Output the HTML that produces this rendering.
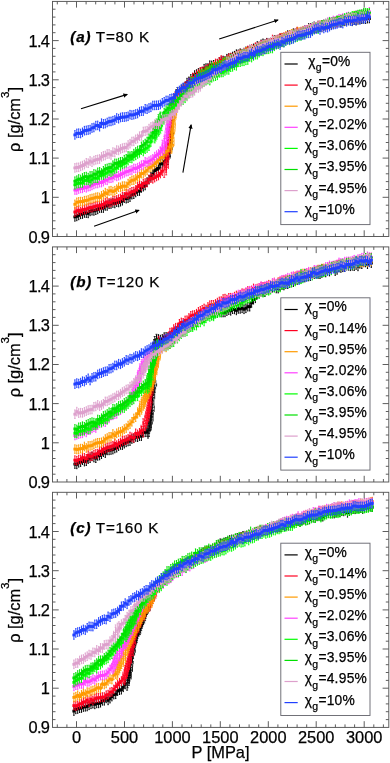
<!DOCTYPE html>
<html lang="en"><head><meta charset="utf-8"><title>Density vs pressure</title>
<style>html,body{margin:0;padding:0;background:#fff}body{width:390px;height:763px;overflow:hidden}svg{display:block}text{font-family:"Liberation Sans",Arial,sans-serif;fill:#000;stroke:#000;stroke-width:.25px}.tk{font-size:16.4px}.lg{font-size:13.8px;letter-spacing:.25px}.tt{font-size:15.2px;letter-spacing:.8px}.ax{stroke:#555;stroke-width:.95;fill:none}</style></head><body>
<svg width="390" height="763" viewBox="0 0 390 763">
<rect width="390" height="763" fill="#fff"/>
<defs>
<marker id="sk" markerUnits="userSpaceOnUse" markerWidth="12" markerHeight="14" refX="0" refY="0" viewBox="-6 -7 12 14" overflow="visible"><path d="M0-4.3V4.3M-.6-4.3h1.2M-.6 4.3h1.2" stroke="#000000" stroke-width=".95" fill="none"/><rect x="-1.5" y="-1.4" width="3" height="2.8" fill="#000000"/></marker>
<marker id="lk" markerUnits="userSpaceOnUse" markerWidth="14" markerHeight="20" refX="0" refY="0" viewBox="-7 -10 14 20" overflow="visible"><path d="M0-7.5V7.5M-1-7.5h2M-1 7.5h2M-2.2 0h4.4M-2.2-1.6v3.2M2.2-1.6v3.2" stroke="#000000" stroke-width=".8" fill="none"/></marker>
<marker id="sr" markerUnits="userSpaceOnUse" markerWidth="12" markerHeight="14" refX="0" refY="0" viewBox="-6 -7 12 14" overflow="visible"><path d="M0-4.3V4.3M-.6-4.3h1.2M-.6 4.3h1.2" stroke="#ff0020" stroke-width=".95" fill="none"/><rect x="-1.5" y="-1.4" width="3" height="2.8" fill="#ff0020"/></marker>
<marker id="lr" markerUnits="userSpaceOnUse" markerWidth="14" markerHeight="20" refX="0" refY="0" viewBox="-7 -10 14 20" overflow="visible"><path d="M0-7.5V7.5M-1-7.5h2M-1 7.5h2M-2.2 0h4.4M-2.2-1.6v3.2M2.2-1.6v3.2" stroke="#ff0020" stroke-width=".8" fill="none"/></marker>
<marker id="so" markerUnits="userSpaceOnUse" markerWidth="12" markerHeight="14" refX="0" refY="0" viewBox="-6 -7 12 14" overflow="visible"><path d="M0-4.3V4.3M-.6-4.3h1.2M-.6 4.3h1.2" stroke="#ff9a00" stroke-width=".95" fill="none"/><rect x="-1.5" y="-1.4" width="3" height="2.8" fill="#ff9a00"/></marker>
<marker id="lo" markerUnits="userSpaceOnUse" markerWidth="14" markerHeight="20" refX="0" refY="0" viewBox="-7 -10 14 20" overflow="visible"><path d="M0-7.5V7.5M-1-7.5h2M-1 7.5h2M-2.2 0h4.4M-2.2-1.6v3.2M2.2-1.6v3.2" stroke="#ff9a00" stroke-width=".8" fill="none"/></marker>
<marker id="sm" markerUnits="userSpaceOnUse" markerWidth="12" markerHeight="14" refX="0" refY="0" viewBox="-6 -7 12 14" overflow="visible"><path d="M0-4.3V4.3M-.6-4.3h1.2M-.6 4.3h1.2" stroke="#ff40ff" stroke-width=".95" fill="none"/><rect x="-1.5" y="-1.4" width="3" height="2.8" fill="#ff40ff"/></marker>
<marker id="lm" markerUnits="userSpaceOnUse" markerWidth="14" markerHeight="20" refX="0" refY="0" viewBox="-7 -10 14 20" overflow="visible"><path d="M0-7.5V7.5M-1-7.5h2M-1 7.5h2M-2.2 0h4.4M-2.2-1.6v3.2M2.2-1.6v3.2" stroke="#ff40ff" stroke-width=".8" fill="none"/></marker>
<marker id="sg1" markerUnits="userSpaceOnUse" markerWidth="12" markerHeight="14" refX="0" refY="0" viewBox="-6 -7 12 14" overflow="visible"><path d="M0-4.3V4.3M-.6-4.3h1.2M-.6 4.3h1.2" stroke="#00ff00" stroke-width=".95" fill="none"/><rect x="-1.5" y="-1.4" width="3" height="2.8" fill="#00ff00"/></marker>
<marker id="lg1" markerUnits="userSpaceOnUse" markerWidth="14" markerHeight="20" refX="0" refY="0" viewBox="-7 -10 14 20" overflow="visible"><path d="M0-7.5V7.5M-1-7.5h2M-1 7.5h2M-2.2 0h4.4M-2.2-1.6v3.2M2.2-1.6v3.2" stroke="#00ff00" stroke-width=".8" fill="none"/></marker>
<marker id="sg2" markerUnits="userSpaceOnUse" markerWidth="12" markerHeight="14" refX="0" refY="0" viewBox="-6 -7 12 14" overflow="visible"><path d="M0-4.3V4.3M-.6-4.3h1.2M-.6 4.3h1.2" stroke="#00e000" stroke-width=".95" fill="none"/><rect x="-1.5" y="-1.4" width="3" height="2.8" fill="#00e000"/></marker>
<marker id="lg2" markerUnits="userSpaceOnUse" markerWidth="14" markerHeight="20" refX="0" refY="0" viewBox="-7 -10 14 20" overflow="visible"><path d="M0-7.5V7.5M-1-7.5h2M-1 7.5h2M-2.2 0h4.4M-2.2-1.6v3.2M2.2-1.6v3.2" stroke="#00e000" stroke-width=".8" fill="none"/></marker>
<marker id="sp" markerUnits="userSpaceOnUse" markerWidth="12" markerHeight="14" refX="0" refY="0" viewBox="-6 -7 12 14" overflow="visible"><path d="M0-4.3V4.3M-.6-4.3h1.2M-.6 4.3h1.2" stroke="#dda0cc" stroke-width=".95" fill="none"/><rect x="-1.5" y="-1.4" width="3" height="2.8" fill="#dda0cc"/></marker>
<marker id="lp" markerUnits="userSpaceOnUse" markerWidth="14" markerHeight="20" refX="0" refY="0" viewBox="-7 -10 14 20" overflow="visible"><path d="M0-7.5V7.5M-1-7.5h2M-1 7.5h2M-2.2 0h4.4M-2.2-1.6v3.2M2.2-1.6v3.2" stroke="#dda0cc" stroke-width=".8" fill="none"/></marker>
<marker id="sb" markerUnits="userSpaceOnUse" markerWidth="12" markerHeight="14" refX="0" refY="0" viewBox="-6 -7 12 14" overflow="visible"><path d="M0-4.3V4.3M-.6-4.3h1.2M-.6 4.3h1.2" stroke="#2040ff" stroke-width=".95" fill="none"/><rect x="-1.5" y="-1.4" width="3" height="2.8" fill="#2040ff"/></marker>
<marker id="lb" markerUnits="userSpaceOnUse" markerWidth="14" markerHeight="20" refX="0" refY="0" viewBox="-7 -10 14 20" overflow="visible"><path d="M0-7.5V7.5M-1-7.5h2M-1 7.5h2M-2.2 0h4.4M-2.2-1.6v3.2M2.2-1.6v3.2" stroke="#2040ff" stroke-width=".8" fill="none"/></marker>
<marker id="ah" markerUnits="userSpaceOnUse" markerWidth="6" markerHeight="5" refX="4" refY="2.2" orient="auto"><path d="M0 0L4.8 2.2L0 4.4L.5 2.2Z" fill="#000"/></marker>
</defs>
<g>
<polyline points="74.9,216.9 76.8,216.4 78.7,215.4 80.6,214.3 82.5,214 84.4,212.9 86.3,213.1 88.2,213.4 90.1,211.4 92,210.7 93.9,210.9 95.8,210.2 97.7,209.4 99.6,208 101.5,208 103.4,208 105.3,205.9 107.2,205.9 109.1,204.2 111,204 112.9,203 114.8,203.5 116.7,202.1 118.6,202.5 120.5,201.7 122.4,200.7 124.3,198.1 126.2,198.7 128.1,198.1 130,197.1 131.9,194.7 133.8,194.2 135.7,192.5 137.6,191.1 139.5,191 141.4,187.9 143.3,186.7 145.2,185.5 147.1,182.1 149,179.6 150.9,176.9 152.8,174.1 154.7,170.7 156.6,169.4 158.5,168.2 160.4,163.9 162.3,163.8 164.2,161.7 166.1,159 168,157 169.9,143.3 171.8,115.4 173.7,105 175.6,99.3 177.5,95 179.4,92.9 181.3,90 183.2,88.1 185.1,86.4 187,82.6 188.9,81.3 190.8,78.9 192.7,77.7 194.6,75.1 196.5,74.1 198.4,73 200.3,72.6 202.2,71.6 204.1,68.7 206,68.1 207.9,68.1 209.8,65.2 211.7,65.4 213.6,64.8 215.5,65 217.4,63.7 219.3,62.1 221.2,61.2 223.1,60.5 225,61 226.9,58.7 228.8,58 230.7,57.7 232.6,56.5 234.5,55.7 236.4,54.2 238.3,54.3 240.2,53.2 242.1,53.7 244,52.6 245.9,51.3 247.8,51.1 249.7,49.6 251.6,50 253.5,48.4 255.4,48.2 257.3,46 259.2,46.5 261.1,44.3 263,43.3 264.9,43.9 266.8,42.7 268.7,42.8 270.6,43.7 272.5,40.6 274.4,40.1 276.3,40 278.2,39.6 280.1,38.4 282,37.7 283.9,37.7 285.8,36.9 287.7,35.1 289.6,35.2 291.5,34.7 293.4,33.2 295.3,33.6 297.2,32.2 299.1,33 301,31.8 302.9,31.2 304.8,30.1 306.7,29.9 308.6,28 310.5,28.1 312.4,28.6 314.3,26.2 316.2,28 318.1,25.5 320,26.9 321.9,25.2 323.8,25.9 325.7,25 327.6,23.3 329.5,25 331.4,24.7 333.3,23.2 335.2,22.7 337.1,22.4 339,21.5 340.9,22.7 342.8,21.2 344.7,21.3 346.6,20.5 348.5,20.4 350.4,19.6 352.3,21.3 354.2,20 356.1,20.7 358,19.8 359.9,19 361.8,19.1 363.7,18.8 365.6,19.1 367.5,18.6 369.4,18.5" fill="none" stroke="#000000" stroke-width=".8" stroke-linejoin="round"/>
<polyline points="74.9,216.9 76.8,216.4 78.7,215.4 80.6,214.3 82.5,214 84.4,212.9 86.3,213.1 88.2,213.4 90.1,211.4 92,210.7 93.9,210.9 95.8,210.2 97.7,209.4 99.6,208 101.5,208 103.4,208 105.3,205.9 107.2,205.9 109.1,204.2 111,204 112.9,203 114.8,203.5 116.7,202.1 118.6,202.5 120.5,201.7 122.4,200.7 124.3,198.1 126.2,198.7 128.1,198.1 130,197.1 131.9,194.7 133.8,194.2 135.7,192.5 137.6,191.1 139.5,191 141.4,187.9 143.3,186.7 145.2,185.5 147.1,182.1 149,179.6 150.9,176.9 152.8,174.1 154.7,170.7 156.6,169.4 158.5,168.2 160.4,163.9 162.3,163.8 164.2,161.7 166.1,159 179.4,92.9 181.3,90 183.2,88.1 185.1,86.4 187,82.6 188.9,81.3 190.8,78.9 192.7,77.7 194.6,75.1 196.5,74.1 198.4,73 200.3,72.6 202.2,71.6 204.1,68.7 206,68.1 207.9,68.1 209.8,65.2 211.7,65.4 213.6,64.8 215.5,65 217.4,63.7 219.3,62.1 221.2,61.2 223.1,60.5 225,61 226.9,58.7 228.8,58 230.7,57.7 232.6,56.5 234.5,55.7 236.4,54.2 238.3,54.3 240.2,53.2 242.1,53.7 244,52.6 245.9,51.3 247.8,51.1 249.7,49.6 251.6,50 253.5,48.4 255.4,48.2 257.3,46 259.2,46.5 261.1,44.3 263,43.3 264.9,43.9 266.8,42.7 268.7,42.8 270.6,43.7 272.5,40.6 274.4,40.1 276.3,40 278.2,39.6 280.1,38.4 282,37.7 283.9,37.7 285.8,36.9 287.7,35.1 289.6,35.2 291.5,34.7 293.4,33.2 295.3,33.6 297.2,32.2 299.1,33 301,31.8 302.9,31.2 304.8,30.1 306.7,29.9 308.6,28 310.5,28.1 312.4,28.6 314.3,26.2 316.2,28 318.1,25.5 320,26.9 321.9,25.2 323.8,25.9 325.7,25 327.6,23.3 329.5,25 331.4,24.7 333.3,23.2 335.2,22.7 337.1,22.4 339,21.5 340.9,22.7 342.8,21.2 344.7,21.3 346.6,20.5 348.5,20.4 350.4,19.6 352.3,21.3 354.2,20 356.1,20.7 358,19.8 359.9,19 361.8,19.1 363.7,18.8 365.6,19.1 367.5,18.6 369.4,18.5" fill="none" stroke="none" marker-start="url(#sk)" marker-mid="url(#sk)" marker-end="url(#sk)"/>
<polyline points="168,157 169.9,143.3 171.8,115.4 173.7,105 175.6,99.3 177.5,95 167.7,154.3 168.4,151.5 170,148.8 169.2,146 169.6,140.2 170.5,137.1 171.2,134 170,130.9 170.9,127.8 170.9,124.7 170.5,121.6 172,118.5 172.3,112.8 172.8,110.2 172.8,107.6 174.9,102.2 176.3,97.2" fill="none" stroke="none" marker-start="url(#lk)" marker-mid="url(#lk)" marker-end="url(#lk)"/>
<polyline points="74.9,212 76.8,210.8 78.7,210.2 80.6,211.6 82.5,209.7 84.4,209.7 86.3,209 88.2,208.1 90.1,207.5 92,207.8 93.9,206.6 95.8,206.1 97.7,205.7 99.6,206 101.5,205.1 103.4,204.3 105.3,203 107.2,201.8 109.1,202.9 111,202.3 112.9,200.8 114.8,200.6 116.7,200 118.6,199.2 120.5,198.4 122.4,196.4 124.3,196.8 126.2,193.7 128.1,194.1 130,192.7 131.9,191.8 133.8,191.4 135.7,190 137.6,186.9 139.5,185.3 141.4,186 143.3,183.5 145.2,183.1 147.1,182.6 149,179.6 150.9,178.2 152.8,178.8 154.7,177.6 156.6,176.4 158.5,175.5 160.4,173.5 162.3,171.3 164.2,169.9 166.1,164.8 168,149.4 169.9,121.9 171.8,107.9 173.7,101.9 175.6,97.7 177.5,95.8 179.4,93.6 181.3,91.4 183.2,89.7 185.1,86.4 187,84.8 188.9,82.6 190.8,81.8 192.7,77.5 194.6,77.6 196.5,75.4 198.4,74.2 200.3,71.8 202.2,71.4 204.1,71.3 206,69.6 207.9,68.7 209.8,67.5 211.7,67.7 213.6,65.9 215.5,63.4 217.4,63.7 219.3,61.9 221.2,60 223.1,61.2 225,61.8 226.9,60 228.8,58.2 230.7,57.6 232.6,58.3 234.5,56.8 236.4,55.9 238.3,55 240.2,54.3 242.1,54.1 244,53.1 245.9,52.1 247.8,50.4 249.7,50.8 251.6,49.1 253.5,49.7 255.4,47.2 257.3,47.3 259.2,46.6 261.1,44.9 263,46.5 264.9,45.5 266.8,43.3 268.7,43.5 270.6,42.5 272.5,39.5 274.4,41 276.3,40 278.2,39.4 280.1,37.9 282,37.8 283.9,37.2 285.8,37.5 287.7,36.2 289.6,35.3 291.5,35.9 293.4,33.7 295.3,33.2 297.2,31.5 299.1,33.5 301,32.4 302.9,31.8 304.8,31 306.7,30.1 308.6,29.6 310.5,28.7 312.4,28.2 314.3,27.8 316.2,28.4 318.1,27.1 320,26.1 321.9,25.2 323.8,24.7 325.7,25.8 327.6,24.5 329.5,23.7 331.4,22.8 333.3,21.8 335.2,22.1 337.1,22.3 339,20.9 340.9,20.5 342.8,20.1 344.7,19.9 346.6,18.1 348.5,18.7 350.4,17.8 352.3,18.7 354.2,17 356.1,17.6 358,17.9 359.9,16.2 361.8,15.6 363.7,15.8 365.6,15.2 367.5,14.1 369.4,14.8" fill="none" stroke="#ff0020" stroke-width=".8" stroke-linejoin="round"/>
<polyline points="74.9,212 76.8,210.8 78.7,210.2 80.6,211.6 82.5,209.7 84.4,209.7 86.3,209 88.2,208.1 90.1,207.5 92,207.8 93.9,206.6 95.8,206.1 97.7,205.7 99.6,206 101.5,205.1 103.4,204.3 105.3,203 107.2,201.8 109.1,202.9 111,202.3 112.9,200.8 114.8,200.6 116.7,200 118.6,199.2 120.5,198.4 122.4,196.4 124.3,196.8 126.2,193.7 128.1,194.1 130,192.7 131.9,191.8 133.8,191.4 135.7,190 137.6,186.9 139.5,185.3 141.4,186 143.3,183.5 145.2,183.1 147.1,182.6 149,179.6 150.9,178.2 152.8,178.8 154.7,177.6 156.6,176.4 158.5,175.5 160.4,173.5 162.3,171.3 175.6,97.7 177.5,95.8 179.4,93.6 181.3,91.4 183.2,89.7 185.1,86.4 187,84.8 188.9,82.6 190.8,81.8 192.7,77.5 194.6,77.6 196.5,75.4 198.4,74.2 200.3,71.8 202.2,71.4 204.1,71.3 206,69.6 207.9,68.7 209.8,67.5 211.7,67.7 213.6,65.9 215.5,63.4 217.4,63.7 219.3,61.9 221.2,60 223.1,61.2 225,61.8 226.9,60 228.8,58.2 230.7,57.6 232.6,58.3 234.5,56.8 236.4,55.9 238.3,55 240.2,54.3 242.1,54.1 244,53.1 245.9,52.1 247.8,50.4 249.7,50.8 251.6,49.1 253.5,49.7 255.4,47.2 257.3,47.3 259.2,46.6 261.1,44.9 263,46.5 264.9,45.5 266.8,43.3 268.7,43.5 270.6,42.5 272.5,39.5 274.4,41 276.3,40 278.2,39.4 280.1,37.9 282,37.8 283.9,37.2 285.8,37.5 287.7,36.2 289.6,35.3 291.5,35.9 293.4,33.7 295.3,33.2 297.2,31.5 299.1,33.5 301,32.4 302.9,31.8 304.8,31 306.7,30.1 308.6,29.6 310.5,28.7 312.4,28.2 314.3,27.8 316.2,28.4 318.1,27.1 320,26.1 321.9,25.2 323.8,24.7 325.7,25.8 327.6,24.5 329.5,23.7 331.4,22.8 333.3,21.8 335.2,22.1 337.1,22.3 339,20.9 340.9,20.5 342.8,20.1 344.7,19.9 346.6,18.1 348.5,18.7 350.4,17.8 352.3,18.7 354.2,17 356.1,17.6 358,17.9 359.9,16.2 361.8,15.6 363.7,15.8 365.6,15.2 367.5,14.1 369.4,14.8" fill="none" stroke="none" marker-start="url(#sr)" marker-mid="url(#sr)" marker-end="url(#sr)"/>
<polyline points="164.2,169.9 166.1,164.8 168,149.4 169.9,121.9 171.8,107.9 173.7,101.9 166.2,167.4 166.4,161.7 166.8,158.6 166.7,155.6 167.8,152.5 167.6,146.3 167.9,143.3 169.3,140.2 168.4,137.2 169.6,134.1 170,131.1 169.6,128 170,125 171.3,119.1 170.6,116.3 170.7,113.5 170.7,110.7 172.8,104.9 175.4,99.8" fill="none" stroke="none" marker-start="url(#lr)" marker-mid="url(#lr)" marker-end="url(#lr)"/>
<polyline points="74.9,204.3 76.8,202.3 78.7,201.9 80.6,201.6 82.5,201.7 84.4,200.7 86.3,200.5 88.2,200 90.1,199 92,198.5 93.9,198.1 95.8,197.3 97.7,197.1 99.6,197.5 101.5,195.8 103.4,194.7 105.3,192.7 107.2,193.6 109.1,191.1 111,190.7 112.9,191.6 114.8,190.7 116.7,189.2 118.6,187.2 120.5,187.4 122.4,186.2 124.3,186.1 126.2,186.3 128.1,183.6 130,181.7 131.9,180.3 133.8,180.1 135.7,178.9 137.6,176.9 139.5,176.3 141.4,173.6 143.3,173.5 145.2,171.8 147.1,170.3 149,167.9 150.9,167.3 152.8,165.5 154.7,163.8 156.6,162.2 158.5,159.8 160.4,157.8 162.3,157.4 164.2,154.2 166.1,152 168,150.6 169.9,147.1 171.8,144.5 173.7,118.5 175.6,104.6 177.5,98.7 179.4,96.9 181.3,94.1 183.2,90.7 185.1,88.5 187,87.5 188.9,85.1 190.8,81.4 192.7,82.1 194.6,79.9 196.5,79 198.4,76.4 200.3,75.2 202.2,73.4 204.1,75 206,71.9 207.9,72.2 209.8,69.6 211.7,69.3 213.6,67 215.5,67 217.4,67.1 219.3,64.5 221.2,65.4 223.1,63.9 225,62 226.9,61.5 228.8,60.6 230.7,60 232.6,58.7 234.5,57.6 236.4,57.1 238.3,55.7 240.2,54.7 242.1,54.7 244,54.6 245.9,51.9 247.8,52.3 249.7,51 251.6,49.9 253.5,50.5 255.4,48.7 257.3,49.4 259.2,46.9 261.1,47 263,45.8 264.9,44.6 266.8,44.9 268.7,43.6 270.6,43.4 272.5,42.1 274.4,40.6 276.3,40.7 278.2,40.1 280.1,40 282,37.9 283.9,37.9 285.8,35.9 287.7,37.1 289.6,35.1 291.5,33.9 293.4,34.6 295.3,34.8 297.2,32.2 299.1,32 301,31.6 302.9,30.7 304.8,31.3 306.7,29.8 308.6,29.3 310.5,29.7 312.4,28.2 314.3,28.5 316.2,26.9 318.1,26.1 320,25.1 321.9,27.4 323.8,25.2 325.7,25.1 327.6,24.4 329.5,24 331.4,23.4 333.3,24.3 335.2,21.6 337.1,20.7 339,20.6 340.9,19.9 342.8,21 344.7,20.6 346.6,18.8 348.5,18 350.4,18.3 352.3,19.2 354.2,15.6 356.1,17.7 358,16.1 359.9,17.2 361.8,15.3 363.7,15.5 365.6,14.1 367.5,14.2 369.4,15.5" fill="none" stroke="#ff9a00" stroke-width=".8" stroke-linejoin="round"/>
<polyline points="74.9,204.3 76.8,202.3 78.7,201.9 80.6,201.6 82.5,201.7 84.4,200.7 86.3,200.5 88.2,200 90.1,199 92,198.5 93.9,198.1 95.8,197.3 97.7,197.1 99.6,197.5 101.5,195.8 103.4,194.7 105.3,192.7 107.2,193.6 109.1,191.1 111,190.7 112.9,191.6 114.8,190.7 116.7,189.2 118.6,187.2 120.5,187.4 122.4,186.2 124.3,186.1 126.2,186.3 128.1,183.6 130,181.7 131.9,180.3 133.8,180.1 135.7,178.9 137.6,176.9 139.5,176.3 141.4,173.6 143.3,173.5 145.2,171.8 147.1,170.3 149,167.9 150.9,167.3 152.8,165.5 154.7,163.8 156.6,162.2 158.5,159.8 160.4,157.8 162.3,157.4 164.2,154.2 166.1,152 168,150.6 169.9,147.1 179.4,96.9 181.3,94.1 183.2,90.7 185.1,88.5 187,87.5 188.9,85.1 190.8,81.4 192.7,82.1 194.6,79.9 196.5,79 198.4,76.4 200.3,75.2 202.2,73.4 204.1,75 206,71.9 207.9,72.2 209.8,69.6 211.7,69.3 213.6,67 215.5,67 217.4,67.1 219.3,64.5 221.2,65.4 223.1,63.9 225,62 226.9,61.5 228.8,60.6 230.7,60 232.6,58.7 234.5,57.6 236.4,57.1 238.3,55.7 240.2,54.7 242.1,54.7 244,54.6 245.9,51.9 247.8,52.3 249.7,51 251.6,49.9 253.5,50.5 255.4,48.7 257.3,49.4 259.2,46.9 261.1,47 263,45.8 264.9,44.6 266.8,44.9 268.7,43.6 270.6,43.4 272.5,42.1 274.4,40.6 276.3,40.7 278.2,40.1 280.1,40 282,37.9 283.9,37.9 285.8,35.9 287.7,37.1 289.6,35.1 291.5,33.9 293.4,34.6 295.3,34.8 297.2,32.2 299.1,32 301,31.6 302.9,30.7 304.8,31.3 306.7,29.8 308.6,29.3 310.5,29.7 312.4,28.2 314.3,28.5 316.2,26.9 318.1,26.1 320,25.1 321.9,27.4 323.8,25.2 325.7,25.1 327.6,24.4 329.5,24 331.4,23.4 333.3,24.3 335.2,21.6 337.1,20.7 339,20.6 340.9,19.9 342.8,21 344.7,20.6 346.6,18.8 348.5,18 350.4,18.3 352.3,19.2 354.2,15.6 356.1,17.7 358,16.1 359.9,17.2 361.8,15.3 363.7,15.5 365.6,14.1 367.5,14.2 369.4,15.5" fill="none" stroke="none" marker-start="url(#so)" marker-mid="url(#so)" marker-end="url(#so)"/>
<polyline points="171.8,144.5 173.7,118.5 175.6,104.6 177.5,98.7 171.3,145.8 171.8,141.6 171.8,138.7 171.5,135.8 172.4,132.9 172.8,130 173,127.1 173.2,124.3 172.9,121.4 174,115.7 174.4,112.9 175.5,110.1 176.2,107.4 176.5,101.6" fill="none" stroke="none" marker-start="url(#lo)" marker-mid="url(#lo)" marker-end="url(#lo)"/>
<polyline points="74.9,190 76.8,190 78.7,189 80.6,188.4 82.5,188.4 84.4,187.1 86.3,187.8 88.2,186.7 90.1,186.4 92,185.4 93.9,184.4 95.8,183.6 97.7,183.5 99.6,182.6 101.5,182.5 103.4,181.6 105.3,179.9 107.2,180.3 109.1,178.4 111,178.2 112.9,177.7 114.8,175.6 116.7,176.4 118.6,175.7 120.5,174.7 122.4,173.7 124.3,172.9 126.2,171.7 128.1,171.4 130,170.4 131.9,170 133.8,168.3 135.7,168.6 137.6,167.7 139.5,166.6 141.4,165.2 143.3,164.7 145.2,161.9 147.1,162.4 149,161.2 150.9,160.1 152.8,158.9 154.7,156.6 156.6,155.2 158.5,153.9 160.4,151.6 162.3,149.4 164.2,145.9 166.1,141.7 168,125.9 169.9,113.1 171.8,106.4 173.7,101.6 175.6,101.8 177.5,99.7 179.4,96.2 181.3,96.7 183.2,93.4 185.1,91.8 187,90.6 188.9,90.3 190.8,87.5 192.7,86.5 194.6,86.3 196.5,85 198.4,82.5 200.3,81.3 202.2,79.4 204.1,78.8 206,78.6 207.9,77.6 209.8,76.4 211.7,76.1 213.6,73.9 215.5,73.5 217.4,73.1 219.3,72 221.2,71.4 223.1,70 225,68.5 226.9,68 228.8,66 230.7,64.5 232.6,65.2 234.5,63.7 236.4,63 238.3,60.5 240.2,60.5 242.1,59.4 244,58.2 245.9,56.2 247.8,56.7 249.7,56.7 251.6,55.3 253.5,53.7 255.4,53.2 257.3,52.9 259.2,49.3 261.1,50.4 263,50 264.9,49.2 266.8,49.1 268.7,47.8 270.6,46.3 272.5,45.5 274.4,45 276.3,43.1 278.2,42.7 280.1,42.5 282,42.5 283.9,40.1 285.8,39.3 287.7,38.7 289.6,38.8 291.5,36.9 293.4,37.3 295.3,34.7 297.2,34.5 299.1,33.7 301,33.7 302.9,33.1 304.8,30.4 306.7,30.1 308.6,30.3 310.5,28.8 312.4,27.4 314.3,28.6 316.2,27.4 318.1,26.7 320,25.3 321.9,25.7 323.8,24.1 325.7,24.4 327.6,22.2 329.5,21.6 331.4,21.8 333.3,20.5 335.2,21 337.1,20.1 339,18.7 340.9,18.9 342.8,18 344.7,18.5 346.6,16.8 348.5,16.5 350.4,17.3 352.3,17.6 354.2,17 356.1,15.1 358,14.8 359.9,15.4 361.8,13.8 363.7,12.8 365.6,13.3 367.5,13.1 369.4,11.8" fill="none" stroke="#ff40ff" stroke-width=".8" stroke-linejoin="round"/>
<polyline points="74.9,190 76.8,190 78.7,189 80.6,188.4 82.5,188.4 84.4,187.1 86.3,187.8 88.2,186.7 90.1,186.4 92,185.4 93.9,184.4 95.8,183.6 97.7,183.5 99.6,182.6 101.5,182.5 103.4,181.6 105.3,179.9 107.2,180.3 109.1,178.4 111,178.2 112.9,177.7 114.8,175.6 116.7,176.4 118.6,175.7 120.5,174.7 122.4,173.7 124.3,172.9 126.2,171.7 128.1,171.4 130,170.4 131.9,170 133.8,168.3 135.7,168.6 137.6,167.7 139.5,166.6 141.4,165.2 143.3,164.7 145.2,161.9 147.1,162.4 149,161.2 150.9,160.1 152.8,158.9 154.7,156.6 156.6,155.2 158.5,153.9 160.4,151.6 162.3,149.4 173.7,101.6 175.6,101.8 177.5,99.7 179.4,96.2 181.3,96.7 183.2,93.4 185.1,91.8 187,90.6 188.9,90.3 190.8,87.5 192.7,86.5 194.6,86.3 196.5,85 198.4,82.5 200.3,81.3 202.2,79.4 204.1,78.8 206,78.6 207.9,77.6 209.8,76.4 211.7,76.1 213.6,73.9 215.5,73.5 217.4,73.1 219.3,72 221.2,71.4 223.1,70 225,68.5 226.9,68 228.8,66 230.7,64.5 232.6,65.2 234.5,63.7 236.4,63 238.3,60.5 240.2,60.5 242.1,59.4 244,58.2 245.9,56.2 247.8,56.7 249.7,56.7 251.6,55.3 253.5,53.7 255.4,53.2 257.3,52.9 259.2,49.3 261.1,50.4 263,50 264.9,49.2 266.8,49.1 268.7,47.8 270.6,46.3 272.5,45.5 274.4,45 276.3,43.1 278.2,42.7 280.1,42.5 282,42.5 283.9,40.1 285.8,39.3 287.7,38.7 289.6,38.8 291.5,36.9 293.4,37.3 295.3,34.7 297.2,34.5 299.1,33.7 301,33.7 302.9,33.1 304.8,30.4 306.7,30.1 308.6,30.3 310.5,28.8 312.4,27.4 314.3,28.6 316.2,27.4 318.1,26.7 320,25.3 321.9,25.7 323.8,24.1 325.7,24.4 327.6,22.2 329.5,21.6 331.4,21.8 333.3,20.5 335.2,21 337.1,20.1 339,18.7 340.9,18.9 342.8,18 344.7,18.5 346.6,16.8 348.5,16.5 350.4,17.3 352.3,17.6 354.2,17 356.1,15.1 358,14.8 359.9,15.4 361.8,13.8 363.7,12.8 365.6,13.3 367.5,13.1 369.4,11.8" fill="none" stroke="none" marker-start="url(#sm)" marker-mid="url(#sm)" marker-end="url(#sm)"/>
<polyline points="164.2,145.9 166.1,141.7 168,125.9 169.9,113.1 171.8,106.4 162.4,147.7 164.4,143.8 166.8,138.5 166.5,135.4 167.2,132.2 167.7,129.1 168.7,123.3 168.6,120.8 169.4,118.2 169.1,115.7 170.4,110.9 170.7,108.6 173.3,104" fill="none" stroke="none" marker-start="url(#lm)" marker-mid="url(#lm)" marker-end="url(#lm)"/>
<polyline points="74.9,184.8 76.8,183.7 78.7,183.4 80.6,182.9 82.5,183 84.4,180.6 86.3,180.4 88.2,180.2 90.1,181.7 92,179.8 93.9,178.3 95.8,178.1 97.7,178.3 99.6,175.8 101.5,174.9 103.4,175.2 105.3,173.7 107.2,172.9 109.1,171.1 111,172 112.9,170.9 114.8,169 116.7,168.1 118.6,165 120.5,166 122.4,164.3 124.3,163.6 126.2,162.6 128.1,160.6 130,158.2 131.9,158.5 133.8,156.4 135.7,155.4 137.6,153.9 139.5,152.8 141.4,150.1 143.3,151.5 145.2,149.2 147.1,148 149,146.2 150.9,142 152.8,137.7 154.7,135.4 156.6,131.7 158.5,128.6 160.4,125.6 162.3,120.8 164.2,119.4 166.1,115.1 168,113.9 169.9,111.2 171.8,109 173.7,107.4 175.6,105.6 177.5,104 179.4,101.4 181.3,100.7 183.2,100.1 185.1,98.3 187,95.9 188.9,93.5 190.8,90.8 192.7,90.8 194.6,88.3 196.5,86.9 198.4,85.4 200.3,84.5 202.2,82.9 204.1,82 206,80.2 207.9,79.6 209.8,80.6 211.7,77.8 213.6,76.6 215.5,76.2 217.4,75.3 219.3,72.9 221.2,72.6 223.1,72.4 225,70.9 226.9,69.8 228.8,69.9 230.7,67.2 232.6,66.8 234.5,65.3 236.4,65.8 238.3,62.3 240.2,62.2 242.1,61.4 244,61.3 245.9,60.3 247.8,60 249.7,56.8 251.6,57.6 253.5,55.9 255.4,54.7 257.3,54.7 259.2,52.7 261.1,51 263,51.4 264.9,49.6 266.8,49.4 268.7,49.3 270.6,48.4 272.5,48.5 274.4,46.3 276.3,44.5 278.2,44.2 280.1,43.3 282,42.2 283.9,42.6 285.8,41 287.7,39.2 289.6,40.4 291.5,38.9 293.4,38.5 295.3,37.5 297.2,37.1 299.1,35.8 301,35.9 302.9,34.5 304.8,33.7 306.7,32.9 308.6,30.7 310.5,30.9 312.4,30.1 314.3,29.6 316.2,27.7 318.1,29.1 320,27.2 321.9,25.5 323.8,24.4 325.7,24.7 327.6,24.2 329.5,23 331.4,22.9 333.3,21.7 335.2,22 337.1,20.4 339,20.4 340.9,20.5 342.8,21.2 344.7,18 346.6,17.9 348.5,17.1 350.4,17.8 352.3,15.9 354.2,15.9 356.1,15.8 358,14.6 359.9,14.2 361.8,14.2 363.7,12.6 365.6,12.7 367.5,13 369.4,13.1" fill="none" stroke="#00ff00" stroke-width=".8" stroke-linejoin="round"/>
<polyline points="74.9,184.8 76.8,183.7 78.7,183.4 80.6,182.9 82.5,183 84.4,180.6 86.3,180.4 88.2,180.2 90.1,181.7 92,179.8 93.9,178.3 95.8,178.1 97.7,178.3 99.6,175.8 101.5,174.9 103.4,175.2 105.3,173.7 107.2,172.9 109.1,171.1 111,172 112.9,170.9 114.8,169 116.7,168.1 118.6,165 120.5,166 122.4,164.3 124.3,163.6 126.2,162.6 128.1,160.6 130,158.2 131.9,158.5 133.8,156.4 135.7,155.4 137.6,153.9 139.5,152.8 141.4,150.1 143.3,151.5 145.2,149.2 147.1,148 149,146.2 150.9,142 152.8,137.7 162.3,120.8 164.2,119.4 166.1,115.1 168,113.9 169.9,111.2 171.8,109 173.7,107.4 175.6,105.6 177.5,104 179.4,101.4 181.3,100.7 183.2,100.1 185.1,98.3 187,95.9 188.9,93.5 190.8,90.8 192.7,90.8 194.6,88.3 196.5,86.9 198.4,85.4 200.3,84.5 202.2,82.9 204.1,82 206,80.2 207.9,79.6 209.8,80.6 211.7,77.8 213.6,76.6 215.5,76.2 217.4,75.3 219.3,72.9 221.2,72.6 223.1,72.4 225,70.9 226.9,69.8 228.8,69.9 230.7,67.2 232.6,66.8 234.5,65.3 236.4,65.8 238.3,62.3 240.2,62.2 242.1,61.4 244,61.3 245.9,60.3 247.8,60 249.7,56.8 251.6,57.6 253.5,55.9 255.4,54.7 257.3,54.7 259.2,52.7 261.1,51 263,51.4 264.9,49.6 266.8,49.4 268.7,49.3 270.6,48.4 272.5,48.5 274.4,46.3 276.3,44.5 278.2,44.2 280.1,43.3 282,42.2 283.9,42.6 285.8,41 287.7,39.2 289.6,40.4 291.5,38.9 293.4,38.5 295.3,37.5 297.2,37.1 299.1,35.8 301,35.9 302.9,34.5 304.8,33.7 306.7,32.9 308.6,30.7 310.5,30.9 312.4,30.1 314.3,29.6 316.2,27.7 318.1,29.1 320,27.2 321.9,25.5 323.8,24.4 325.7,24.7 327.6,24.2 329.5,23 331.4,22.9 333.3,21.7 335.2,22 337.1,20.4 339,20.4 340.9,20.5 342.8,21.2 344.7,18 346.6,17.9 348.5,17.1 350.4,17.8 352.3,15.9 354.2,15.9 356.1,15.8 358,14.6 359.9,14.2 361.8,14.2 363.7,12.6 365.6,12.7 367.5,13 369.4,13.1" fill="none" stroke="none" marker-start="url(#sg1)" marker-mid="url(#sg1)" marker-end="url(#sg1)"/>
<polyline points="154.7,135.4 156.6,131.7 158.5,128.6 160.4,125.6 155.6,133.5 156.7,130.2 159.2,127.1 161.7,123.2" fill="none" stroke="none" marker-start="url(#lg1)" marker-mid="url(#lg1)" marker-end="url(#lg1)"/>
<polyline points="74.9,181.2 76.8,180.2 78.7,179 80.6,179.5 82.5,178 84.4,176.9 86.3,176.6 88.2,177.6 90.1,176 92,175.9 93.9,174 95.8,174.3 97.7,172.3 99.6,171.9 101.5,173 103.4,170.8 105.3,169 107.2,168.4 109.1,167.7 111,167.5 112.9,165.2 114.8,163.3 116.7,163.4 118.6,162.6 120.5,161.8 122.4,161.7 124.3,159.7 126.2,158.8 128.1,156 130,156.2 131.9,155.8 133.8,153.6 135.7,152 137.6,150.5 139.5,150.1 141.4,146.4 143.3,145.1 145.2,143.5 147.1,141.5 149,138.2 150.9,136.1 152.8,132.9 154.7,130.1 156.6,126.5 158.5,122.1 160.4,119.5 162.3,117 164.2,112.5 166.1,110.1 168,108.2 169.9,104.5 171.8,103.3 173.7,100.7 175.6,100.8 177.5,100.2 179.4,98.4 181.3,95.2 183.2,94.3 185.1,91.9 187,89.1 188.9,86.8 190.8,81.8 192.7,81.6 194.6,79.1 196.5,78.6 198.4,76.3 200.3,74.4 202.2,73.9 204.1,73.1 206,71.5 207.9,70.8 209.8,69 211.7,66.9 213.6,68.2 215.5,67.2 217.4,65.9 219.3,65 221.2,64.8 223.1,62.8 225,61.8 226.9,61.3 228.8,61.5 230.7,58.7 232.6,59.8 234.5,57.6 236.4,56.5 238.3,57.5 240.2,55.7 242.1,54 244,53.9 245.9,54.1 247.8,53.6 249.7,51.6 251.6,51.5 253.5,51 255.4,49.2 257.3,49.2 259.2,48.2 261.1,47.1 263,46.4 264.9,46.1 266.8,45.4 268.7,44.2 270.6,43.6 272.5,44.1 274.4,42.7 276.3,42.5 278.2,42.1 280.1,40.9 282,41.5 283.9,38.5 285.8,39.1 287.7,37.5 289.6,38.5 291.5,37.7 293.4,34.3 295.3,34.4 297.2,34.9 299.1,34.3 301,33.6 302.9,32.3 304.8,32.1 306.7,31.5 308.6,30.3 310.5,30.4 312.4,27.3 314.3,28.8 316.2,26.9 318.1,27.7 320,26.1 321.9,25 323.8,25.3 325.7,23.7 327.6,23.1 329.5,22 331.4,22.5 333.3,22.3 335.2,22.2 337.1,20.8 339,21.1 340.9,19.8 342.8,19.2 344.7,19.3 346.6,19.1 348.5,17.6 350.4,17.3 352.3,16.9 354.2,16.6 356.1,15.5 358,16.5 359.9,15 361.8,15.3 363.7,14 365.6,14.5 367.5,14.1 369.4,13.2" fill="none" stroke="#00e000" stroke-width=".8" stroke-linejoin="round"/>
<polyline points="74.9,181.2 76.8,180.2 78.7,179 80.6,179.5 82.5,178 84.4,176.9 86.3,176.6 88.2,177.6 90.1,176 92,175.9 93.9,174 95.8,174.3 97.7,172.3 99.6,171.9 101.5,173 103.4,170.8 105.3,169 107.2,168.4 109.1,167.7 111,167.5 112.9,165.2 114.8,163.3 116.7,163.4 118.6,162.6 120.5,161.8 122.4,161.7 124.3,159.7 126.2,158.8 128.1,156 130,156.2 131.9,155.8 133.8,153.6 135.7,152 137.6,150.5 139.5,150.1 141.4,146.4 143.3,145.1 145.2,143.5 147.1,141.5 149,138.2 150.9,136.1 152.8,132.9 162.3,117 164.2,112.5 166.1,110.1 168,108.2 169.9,104.5 171.8,103.3 173.7,100.7 175.6,100.8 177.5,100.2 179.4,98.4 181.3,95.2 183.2,94.3 185.1,91.9 187,89.1 188.9,86.8 190.8,81.8 192.7,81.6 194.6,79.1 196.5,78.6 198.4,76.3 200.3,74.4 202.2,73.9 204.1,73.1 206,71.5 207.9,70.8 209.8,69 211.7,66.9 213.6,68.2 215.5,67.2 217.4,65.9 219.3,65 221.2,64.8 223.1,62.8 225,61.8 226.9,61.3 228.8,61.5 230.7,58.7 232.6,59.8 234.5,57.6 236.4,56.5 238.3,57.5 240.2,55.7 242.1,54 244,53.9 245.9,54.1 247.8,53.6 249.7,51.6 251.6,51.5 253.5,51 255.4,49.2 257.3,49.2 259.2,48.2 261.1,47.1 263,46.4 264.9,46.1 266.8,45.4 268.7,44.2 270.6,43.6 272.5,44.1 274.4,42.7 276.3,42.5 278.2,42.1 280.1,40.9 282,41.5 283.9,38.5 285.8,39.1 287.7,37.5 289.6,38.5 291.5,37.7 293.4,34.3 295.3,34.4 297.2,34.9 299.1,34.3 301,33.6 302.9,32.3 304.8,32.1 306.7,31.5 308.6,30.3 310.5,30.4 312.4,27.3 314.3,28.8 316.2,26.9 318.1,27.7 320,26.1 321.9,25 323.8,25.3 325.7,23.7 327.6,23.1 329.5,22 331.4,22.5 333.3,22.3 335.2,22.2 337.1,20.8 339,21.1 340.9,19.8 342.8,19.2 344.7,19.3 346.6,19.1 348.5,17.6 350.4,17.3 352.3,16.9 354.2,16.6 356.1,15.5 358,16.5 359.9,15 361.8,15.3 363.7,14 365.6,14.5 367.5,14.1 369.4,13.2" fill="none" stroke="none" marker-start="url(#sg2)" marker-mid="url(#sg2)" marker-end="url(#sg2)"/>
<polyline points="154.7,130.1 156.6,126.5 158.5,122.1 160.4,119.5 154.8,131.5 155.8,128.3 158.4,124.3 159.9,120.8" fill="none" stroke="none" marker-start="url(#lg2)" marker-mid="url(#lg2)" marker-end="url(#lg2)"/>
<polyline points="74.9,167.9 76.8,167.4 78.7,167.3 80.6,166.3 82.5,165.6 84.4,164.6 86.3,162.8 88.2,163.2 90.1,161 92,162.2 93.9,160.6 95.8,159.8 97.7,159.4 99.6,159 101.5,156.9 103.4,155.9 105.3,155.5 107.2,154 109.1,153.9 111,155 112.9,152.1 114.8,152.5 116.7,150.1 118.6,150.4 120.5,149 122.4,148.2 124.3,147.7 126.2,147.4 128.1,145 130,143.7 131.9,141.5 133.8,141.3 135.7,139.3 137.6,138.5 139.5,136.2 141.4,135.9 143.3,131.5 145.2,131.2 147.1,130.7 149,128.6 150.9,127 152.8,126.2 154.7,124.2 156.6,124.2 158.5,124.7 160.4,122.7 162.3,120 164.2,119.3 166.1,118.7 168,118.6 169.9,116 171.8,114.6 173.7,114 175.6,111.6 177.5,108.1 179.4,104.9 181.3,101.8 183.2,99.6 185.1,96.1 187,96.5 188.9,93.8 190.8,93.1 192.7,92.7 194.6,90.8 196.5,87.8 198.4,88 200.3,86.8 202.2,83.8 204.1,82.1 206,81.2 207.9,78.5 209.8,79.1 211.7,74.6 213.6,73.9 215.5,72.9 217.4,71.3 219.3,69.8 221.2,68.1 223.1,66 225,65.3 226.9,61.3 228.8,61.4 230.7,59.6 232.6,59 234.5,58 236.4,56.1 238.3,55.3 240.2,55.4 242.1,54.1 244,52.5 245.9,53.7 247.8,53 249.7,49.4 251.6,49.9 253.5,50.8 255.4,48.7 257.3,47.5 259.2,46.4 261.1,45.4 263,44.9 264.9,44 266.8,44.2 268.7,42.7 270.6,42 272.5,40.7 274.4,40.9 276.3,39.6 278.2,39.5 280.1,39.8 282,38.6 283.9,38.1 285.8,37.3 287.7,36.5 289.6,35.7 291.5,35 293.4,35.2 295.3,33.2 297.2,34.4 299.1,32.8 301,31.5 302.9,31.1 304.8,30.4 306.7,30.4 308.6,29.1 310.5,29.9 312.4,27.8 314.3,26.1 316.2,26.6 318.1,25.1 320,25.9 321.9,26.2 323.8,25.3 325.7,23.2 327.6,23.1 329.5,24.5 331.4,22.9 333.3,22.2 335.2,22.5 337.1,23.1 339,21.8 340.9,20.5 342.8,20.2 344.7,20 346.6,18.7 348.5,18 350.4,18.5 352.3,17.4 354.2,17.7 356.1,17.5 358,18.8 359.9,16.1 361.8,16.4 363.7,16.1 365.6,16.3 367.5,16.4 369.4,15" fill="none" stroke="#dda0cc" stroke-width=".8" stroke-linejoin="round"/>
<polyline points="74.9,167.9 76.8,167.4 78.7,167.3 80.6,166.3 82.5,165.6 84.4,164.6 86.3,162.8 88.2,163.2 90.1,161 92,162.2 93.9,160.6 95.8,159.8 97.7,159.4 99.6,159 101.5,156.9 103.4,155.9 105.3,155.5 107.2,154 109.1,153.9 111,155 112.9,152.1 114.8,152.5 116.7,150.1 118.6,150.4 120.5,149 122.4,148.2 124.3,147.7 126.2,147.4 128.1,145 130,143.7 131.9,141.5 133.8,141.3 135.7,139.3 137.6,138.5 139.5,136.2 141.4,135.9 143.3,131.5 145.2,131.2 147.1,130.7 149,128.6 150.9,127 152.8,126.2 154.7,124.2 156.6,124.2 158.5,124.7 160.4,122.7 162.3,120 164.2,119.3 166.1,118.7 168,118.6 169.9,116 171.8,114.6 173.7,114 175.6,111.6 177.5,108.1 179.4,104.9 181.3,101.8 183.2,99.6 185.1,96.1 187,96.5 188.9,93.8 190.8,93.1 192.7,92.7 194.6,90.8 196.5,87.8 198.4,88 200.3,86.8 202.2,83.8 204.1,82.1 206,81.2 207.9,78.5 209.8,79.1 211.7,74.6 213.6,73.9 215.5,72.9 217.4,71.3 219.3,69.8 221.2,68.1 223.1,66 225,65.3 226.9,61.3 228.8,61.4 230.7,59.6 232.6,59 234.5,58 236.4,56.1 238.3,55.3 240.2,55.4 242.1,54.1 244,52.5 245.9,53.7 247.8,53 249.7,49.4 251.6,49.9 253.5,50.8 255.4,48.7 257.3,47.5 259.2,46.4 261.1,45.4 263,44.9 264.9,44 266.8,44.2 268.7,42.7 270.6,42 272.5,40.7 274.4,40.9 276.3,39.6 278.2,39.5 280.1,39.8 282,38.6 283.9,38.1 285.8,37.3 287.7,36.5 289.6,35.7 291.5,35 293.4,35.2 295.3,33.2 297.2,34.4 299.1,32.8 301,31.5 302.9,31.1 304.8,30.4 306.7,30.4 308.6,29.1 310.5,29.9 312.4,27.8 314.3,26.1 316.2,26.6 318.1,25.1 320,25.9 321.9,26.2 323.8,25.3 325.7,23.2 327.6,23.1 329.5,24.5 331.4,22.9 333.3,22.2 335.2,22.5 337.1,23.1 339,21.8 340.9,20.5 342.8,20.2 344.7,20 346.6,18.7 348.5,18 350.4,18.5 352.3,17.4 354.2,17.7 356.1,17.5 358,18.8 359.9,16.1 361.8,16.4 363.7,16.1 365.6,16.3 367.5,16.4 369.4,15" fill="none" stroke="none" marker-start="url(#sp)" marker-mid="url(#sp)" marker-end="url(#sp)"/>
<polyline points="74.9,134.9 76.8,133.4 78.7,133.2 80.6,133.5 82.5,132.3 84.4,130.7 86.3,130.4 88.2,130 90.1,129.6 92,128 93.9,127.5 95.8,125.6 97.7,125.4 99.6,126.7 101.5,123.2 103.4,123.9 105.3,123.6 107.2,122.5 109.1,121.5 111,121.4 112.9,120.7 114.8,120 116.7,118 118.6,118.7 120.5,117.5 122.4,117.1 124.3,117.1 126.2,116.8 128.1,116.3 130,114.7 131.9,115.1 133.8,114.7 135.7,114 137.6,113.5 139.5,111.7 141.4,111.1 143.3,111.1 145.2,108.8 147.1,109.2 149,108 150.9,107.3 152.8,105.5 154.7,105.4 156.6,105.3 158.5,105.2 160.4,104.5 162.3,102.8 164.2,101.8 166.1,100.4 168,100.4 169.9,98.8 171.8,98.3 173.7,97.8 175.6,94.7 177.5,91.7 179.4,90.5 181.3,88.6 183.2,87.3 185.1,87.8 187,85.6 188.9,82.9 190.8,83.2 192.7,82.5 194.6,80.2 196.5,79 198.4,78.3 200.3,77.7 202.2,77 204.1,76.4 206,75.5 207.9,74.5 209.8,73.7 211.7,72.3 213.6,69.7 215.5,69.9 217.4,69.3 219.3,68 221.2,68.1 223.1,66.3 225,65 226.9,66 228.8,64.6 230.7,63.4 232.6,63.1 234.5,62.4 236.4,61 238.3,58.1 240.2,58.6 242.1,57.9 244,56.7 245.9,56.7 247.8,56.7 249.7,54.6 251.6,53.3 253.5,54.9 255.4,52.2 257.3,50.8 259.2,51.2 261.1,50.5 263,48.9 264.9,49.3 266.8,47.6 268.7,46.5 270.6,46.6 272.5,46.3 274.4,44.5 276.3,44.5 278.2,43.5 280.1,45 282,41.6 283.9,42.5 285.8,40.7 287.7,39.9 289.6,39.8 291.5,39.3 293.4,38.8 295.3,37.4 297.2,36 299.1,35.4 301,35.5 302.9,34.9 304.8,34.8 306.7,33.4 308.6,33.3 310.5,33 312.4,31.3 314.3,29.4 316.2,29 318.1,28.2 320,29.9 321.9,27.5 323.8,28.5 325.7,27.4 327.6,27.7 329.5,26.6 331.4,25.3 333.3,24.7 335.2,24.4 337.1,23.9 339,22.9 340.9,22.9 342.8,23.6 344.7,20.7 346.6,21.8 348.5,20.5 350.4,21 352.3,21.1 354.2,20.1 356.1,20.4 358,18.3 359.9,20 361.8,18.4 363.7,19 365.6,18.3 367.5,15.9 369.4,17" fill="none" stroke="#2040ff" stroke-width=".8" stroke-linejoin="round"/>
<polyline points="74.9,134.9 76.8,133.4 78.7,133.2 80.6,133.5 82.5,132.3 84.4,130.7 86.3,130.4 88.2,130 90.1,129.6 92,128 93.9,127.5 95.8,125.6 97.7,125.4 99.6,126.7 101.5,123.2 103.4,123.9 105.3,123.6 107.2,122.5 109.1,121.5 111,121.4 112.9,120.7 114.8,120 116.7,118 118.6,118.7 120.5,117.5 122.4,117.1 124.3,117.1 126.2,116.8 128.1,116.3 130,114.7 131.9,115.1 133.8,114.7 135.7,114 137.6,113.5 139.5,111.7 141.4,111.1 143.3,111.1 145.2,108.8 147.1,109.2 149,108 150.9,107.3 152.8,105.5 154.7,105.4 156.6,105.3 158.5,105.2 160.4,104.5 162.3,102.8 164.2,101.8 166.1,100.4 168,100.4 169.9,98.8 171.8,98.3 173.7,97.8 175.6,94.7 177.5,91.7 179.4,90.5 181.3,88.6 183.2,87.3 185.1,87.8 187,85.6 188.9,82.9 190.8,83.2 192.7,82.5 194.6,80.2 196.5,79 198.4,78.3 200.3,77.7 202.2,77 204.1,76.4 206,75.5 207.9,74.5 209.8,73.7 211.7,72.3 213.6,69.7 215.5,69.9 217.4,69.3 219.3,68 221.2,68.1 223.1,66.3 225,65 226.9,66 228.8,64.6 230.7,63.4 232.6,63.1 234.5,62.4 236.4,61 238.3,58.1 240.2,58.6 242.1,57.9 244,56.7 245.9,56.7 247.8,56.7 249.7,54.6 251.6,53.3 253.5,54.9 255.4,52.2 257.3,50.8 259.2,51.2 261.1,50.5 263,48.9 264.9,49.3 266.8,47.6 268.7,46.5 270.6,46.6 272.5,46.3 274.4,44.5 276.3,44.5 278.2,43.5 280.1,45 282,41.6 283.9,42.5 285.8,40.7 287.7,39.9 289.6,39.8 291.5,39.3 293.4,38.8 295.3,37.4 297.2,36 299.1,35.4 301,35.5 302.9,34.9 304.8,34.8 306.7,33.4 308.6,33.3 310.5,33 312.4,31.3 314.3,29.4 316.2,29 318.1,28.2 320,29.9 321.9,27.5 323.8,28.5 325.7,27.4 327.6,27.7 329.5,26.6 331.4,25.3 333.3,24.7 335.2,24.4 337.1,23.9 339,22.9 340.9,22.9 342.8,23.6 344.7,20.7 346.6,21.8 348.5,20.5 350.4,21 352.3,21.1 354.2,20.1 356.1,20.4 358,18.3 359.9,20 361.8,18.4 363.7,19 365.6,18.3 367.5,15.9 369.4,17" fill="none" stroke="none" marker-start="url(#sb)" marker-mid="url(#sb)" marker-end="url(#sb)"/>
<rect class="ax" x="52.5" y="1.4" width="336.3" height="235.1"/>
<path class="ax" d="M57.3 236.5v-3M57.3 1.4v3M66.9 236.5v-3M66.9 1.4v3M76.5 236.5v-6.2M76.5 1.4v6.2M86.1 236.5v-3M86.1 1.4v3M95.7 236.5v-3M95.7 1.4v3M105.3 236.5v-3M105.3 1.4v3M114.9 236.5v-3M114.9 1.4v3M124.5 236.5v-6.2M124.5 1.4v6.2M134 236.5v-3M134 1.4v3M143.6 236.5v-3M143.6 1.4v3M153.2 236.5v-3M153.2 1.4v3M162.8 236.5v-3M162.8 1.4v3M172.4 236.5v-6.2M172.4 1.4v6.2M182 236.5v-3M182 1.4v3M191.6 236.5v-3M191.6 1.4v3M201.2 236.5v-3M201.2 1.4v3M210.8 236.5v-3M210.8 1.4v3M220.3 236.5v-6.2M220.3 1.4v6.2M229.9 236.5v-3M229.9 1.4v3M239.5 236.5v-3M239.5 1.4v3M249.1 236.5v-3M249.1 1.4v3M258.7 236.5v-3M258.7 1.4v3M268.3 236.5v-6.2M268.3 1.4v6.2M277.9 236.5v-3M277.9 1.4v3M287.5 236.5v-3M287.5 1.4v3M297.1 236.5v-3M297.1 1.4v3M306.7 236.5v-3M306.7 1.4v3M316.2 236.5v-6.2M316.2 1.4v6.2M325.8 236.5v-3M325.8 1.4v3M335.4 236.5v-3M335.4 1.4v3M345 236.5v-3M345 1.4v3M354.6 236.5v-3M354.6 1.4v3M364.2 236.5v-6.2M364.2 1.4v6.2M373.8 236.5v-3M373.8 1.4v3M383.4 236.5v-3M383.4 1.4v3M52.5 228.7h3M388.8 228.7h-3M52.5 220.8h3M388.8 220.8h-3M52.5 213h3M388.8 213h-3M52.5 205.2h3M388.8 205.2h-3M52.5 197.3h6.2M388.8 197.3h-6.2M52.5 189.5h3M388.8 189.5h-3M52.5 181.6h3M388.8 181.6h-3M52.5 173.8h3M388.8 173.8h-3M52.5 166h3M388.8 166h-3M52.5 158.1h6.2M388.8 158.1h-6.2M52.5 150.3h3M388.8 150.3h-3M52.5 142.5h3M388.8 142.5h-3M52.5 134.6h3M388.8 134.6h-3M52.5 126.8h3M388.8 126.8h-3M52.5 119h6.2M388.8 119h-6.2M52.5 111.1h3M388.8 111.1h-3M52.5 103.3h3M388.8 103.3h-3M52.5 95.4h3M388.8 95.4h-3M52.5 87.6h3M388.8 87.6h-3M52.5 79.8h6.2M388.8 79.8h-6.2M52.5 71.9h3M388.8 71.9h-3M52.5 64.1h3M388.8 64.1h-3M52.5 56.3h3M388.8 56.3h-3M52.5 48.4h3M388.8 48.4h-3M52.5 40.6h6.2M388.8 40.6h-6.2M52.5 32.7h3M388.8 32.7h-3M52.5 24.9h3M388.8 24.9h-3M52.5 17.1h3M388.8 17.1h-3M52.5 9.2h3M388.8 9.2h-3"/>
<text class="tk" x="49.9" y="242.5" text-anchor="end">0<tspan dx="-.7">.</tspan><tspan dx="-.7">9</tspan></text>
<text class="tk" x="49.9" y="203.3" text-anchor="end">1</text>
<text class="tk" x="49.9" y="164.1" text-anchor="end">1<tspan dx="-.7">.</tspan><tspan dx="-.7">1</tspan></text>
<text class="tk" x="49.9" y="125" text-anchor="end">1<tspan dx="-.7">.</tspan><tspan dx="-.7">2</tspan></text>
<text class="tk" x="49.9" y="85.8" text-anchor="end">1<tspan dx="-.7">.</tspan><tspan dx="-.7">3</tspan></text>
<text class="tk" x="49.9" y="46.6" text-anchor="end">1<tspan dx="-.7">.</tspan><tspan dx="-.7">4</tspan></text>
<text class="tk" transform="translate(20.4 119.5) rotate(-90)" text-anchor="middle">ρ [g/cm<tspan font-size="11.5" dy="-11.3">3</tspan><tspan dy="11.3">]</tspan></text>
<text class="tt" x="70.3" y="41.7"><tspan font-weight="bold" font-style="italic">(a)</tspan><tspan dx="4.6">T=80 K</tspan></text>
<rect x="280.8" y="52.3" width="89.2" height="172.3" fill="#fff" stroke="#6a6a72" stroke-width=".95"/>
<path d="M284.5 64h13.2" stroke="#000000" stroke-width="1.2"/>
<text class="lg" x="308.3" y="65.9">χ<tspan font-size="10.5" dy="5.5">g</tspan><tspan dy="-5.5">=0%</tspan></text>
<path d="M284.5 85.1h13.2" stroke="#ff0020" stroke-width="1.2"/>
<text class="lg" x="304.8" y="87">χ<tspan font-size="10.5" dy="5.5">g</tspan><tspan dy="-5.5">=0.14%</tspan></text>
<path d="M284.5 106.2h13.2" stroke="#ff9a00" stroke-width="1.2"/>
<text class="lg" x="304.8" y="108.1">χ<tspan font-size="10.5" dy="5.5">g</tspan><tspan dy="-5.5">=0.95%</tspan></text>
<path d="M284.5 127.3h13.2" stroke="#ff40ff" stroke-width="1.2"/>
<text class="lg" x="304.8" y="129.2">χ<tspan font-size="10.5" dy="5.5">g</tspan><tspan dy="-5.5">=2.02%</tspan></text>
<path d="M284.5 148.4h13.2" stroke="#00ff00" stroke-width="1.2"/>
<text class="lg" x="304.8" y="150.3">χ<tspan font-size="10.5" dy="5.5">g</tspan><tspan dy="-5.5">=3.06%</tspan></text>
<path d="M284.5 169.5h13.2" stroke="#00e000" stroke-width="1.2"/>
<text class="lg" x="304.8" y="171.4">χ<tspan font-size="10.5" dy="5.5">g</tspan><tspan dy="-5.5">=3.95%</tspan></text>
<path d="M284.5 190.6h13.2" stroke="#dda0cc" stroke-width="1.2"/>
<text class="lg" x="304.8" y="192.5">χ<tspan font-size="10.5" dy="5.5">g</tspan><tspan dy="-5.5">=4.95%</tspan></text>
<path d="M284.5 211.7h13.2" stroke="#2040ff" stroke-width="1.2"/>
<text class="lg" x="304.8" y="213.6">χ<tspan font-size="10.5" dy="5.5">g</tspan><tspan dy="-5.5">=10%</tspan></text>
</g>
<g>
<polyline points="74.9,464.1 76.8,464.4 78.7,462.8 80.6,462.1 82.5,460.2 84.4,461.6 86.3,461.2 88.2,459.1 90.1,458.2 92,456.4 93.9,457.6 95.8,458.2 97.7,455.9 99.6,455.5 101.5,454.2 103.4,452.2 105.3,453.1 107.2,450.4 109.1,450.4 111,450 112.9,449.6 114.8,448.5 116.7,447.7 118.6,446.1 120.5,444.9 122.4,445.1 124.3,443.7 126.2,442.4 128.1,441.5 130,441.1 131.9,439 133.8,438.3 135.7,436.9 137.6,437.2 139.5,436.1 141.4,436.1 143.3,432.6 145.2,432.3 147.1,432.2 149,428.9 150.9,419.9 152.8,391.3 154.7,344 156.6,339.7 158.5,339 160.4,339.6 162.3,339 164.2,337.1 166.1,336.9 168,337.4 169.9,336.6 171.8,334.5 173.7,334 175.6,332.4 177.5,329.3 179.4,329 181.3,328.3 183.2,326.2 185.1,323.8 187,324 188.9,323.6 190.8,323.2 192.7,319.3 194.6,321.9 196.5,318.1 198.4,318.8 200.3,318.1 202.2,317.1 204.1,315.7 206,313.9 207.9,314.5 209.8,312.9 211.7,311 213.6,314.5 215.5,312.6 217.4,313.1 219.3,310.9 221.2,312.5 223.1,312.5 225,312.4 226.9,311.1 228.8,310.1 230.7,310.8 232.6,309.2 234.5,309.4 236.4,310.4 238.3,308.9 240.2,308.9 242.1,308.3 244,309.3 245.9,308.3 247.8,306.7 249.7,306.7 251.6,302.9 253.5,299.7 255.4,298.3 257.3,294.6 259.2,293.6 261.1,291.7 263,291.9 264.9,292.2 266.8,289.7 268.7,289.8 270.6,288.4 272.5,287.7 274.4,287.1 276.3,288.5 278.2,288.6 280.1,286.6 282,285 283.9,285.5 285.8,284 287.7,284.2 289.6,283.2 291.5,282.5 293.4,282.1 295.3,280.6 297.2,280 299.1,278.4 301,278.7 302.9,277.3 304.8,277.6 306.7,276.4 308.6,276.5 310.5,276.2 312.4,274.2 314.3,274 316.2,273.3 318.1,274 320,274.2 321.9,273 323.8,271.6 325.7,272.5 327.6,269.8 329.5,271.6 331.4,269.5 333.3,267.4 335.2,271.1 337.1,269.9 339,267.5 340.9,268 342.8,267.3 344.7,267.2 346.6,265.6 348.5,265.8 350.4,266.3 352.3,265.8 354.2,266.2 356.1,265 358,266.4 359.9,263.8 361.8,264.2 363.7,262.3 365.6,262.5 367.5,264.2 369.4,262.2 371.3,263.1" fill="none" stroke="#000000" stroke-width=".8" stroke-linejoin="round"/>
<polyline points="74.9,464.1 76.8,464.4 78.7,462.8 80.6,462.1 82.5,460.2 84.4,461.6 86.3,461.2 88.2,459.1 90.1,458.2 92,456.4 93.9,457.6 95.8,458.2 97.7,455.9 99.6,455.5 101.5,454.2 103.4,452.2 105.3,453.1 107.2,450.4 109.1,450.4 111,450 112.9,449.6 114.8,448.5 116.7,447.7 118.6,446.1 120.5,444.9 122.4,445.1 124.3,443.7 126.2,442.4 128.1,441.5 130,441.1 131.9,439 133.8,438.3 135.7,436.9 137.6,437.2 139.5,436.1 141.4,436.1 143.3,432.6 145.2,432.3 147.1,432.2 156.6,339.7 158.5,339 160.4,339.6 162.3,339 164.2,337.1 166.1,336.9 168,337.4 169.9,336.6 171.8,334.5 173.7,334 175.6,332.4 177.5,329.3 179.4,329 181.3,328.3 183.2,326.2 185.1,323.8 187,324 188.9,323.6 190.8,323.2 192.7,319.3 194.6,321.9 196.5,318.1 198.4,318.8 200.3,318.1 202.2,317.1 204.1,315.7 206,313.9 207.9,314.5 209.8,312.9 211.7,311 213.6,314.5 215.5,312.6 217.4,313.1 219.3,310.9 221.2,312.5 223.1,312.5 225,312.4 226.9,311.1 228.8,310.1 230.7,310.8 232.6,309.2 234.5,309.4 236.4,310.4 238.3,308.9 240.2,308.9 242.1,308.3 244,309.3 245.9,308.3 247.8,306.7 249.7,306.7 251.6,302.9 253.5,299.7 255.4,298.3 257.3,294.6 259.2,293.6 261.1,291.7 263,291.9 264.9,292.2 266.8,289.7 268.7,289.8 270.6,288.4 272.5,287.7 274.4,287.1 276.3,288.5 278.2,288.6 280.1,286.6 282,285 283.9,285.5 285.8,284 287.7,284.2 289.6,283.2 291.5,282.5 293.4,282.1 295.3,280.6 297.2,280 299.1,278.4 301,278.7 302.9,277.3 304.8,277.6 306.7,276.4 308.6,276.5 310.5,276.2 312.4,274.2 314.3,274 316.2,273.3 318.1,274 320,274.2 321.9,273 323.8,271.6 325.7,272.5 327.6,269.8 329.5,271.6 331.4,269.5 333.3,267.4 335.2,271.1 337.1,269.9 339,267.5 340.9,268 342.8,267.3 344.7,267.2 346.6,265.6 348.5,265.8 350.4,266.3 352.3,265.8 354.2,266.2 356.1,265 358,266.4 359.9,263.8 361.8,264.2 363.7,262.3 365.6,262.5 367.5,264.2 369.4,262.2 371.3,263.1" fill="none" stroke="none" marker-start="url(#sk)" marker-mid="url(#sk)" marker-end="url(#sk)"/>
<polyline points="149,428.9 150.9,419.9 152.8,391.3 154.7,344 148,430.6 149.1,425.9 150.1,422.9 150.9,416.7 151.1,413.5 151.9,410.4 152.1,407.2 151.7,404 151.7,400.8 152.5,397.6 152.5,394.5 153.4,388.1 154.4,385 153.6,381.8 153.3,378.7 153.3,375.5 153.1,372.4 153.2,369.2 153.3,366 153.7,362.9 153.9,359.7 154.6,356.6 154.1,353.4 154.3,350.3 154,347.1 156.5,341.8" fill="none" stroke="none" marker-start="url(#lk)" marker-mid="url(#lk)" marker-end="url(#lk)"/>
<polyline points="74.9,460.1 76.8,460.7 78.7,459.5 80.6,459.5 82.5,457.7 84.4,457.9 86.3,458.8 88.2,455.3 90.1,456.5 92,456.2 93.9,454.5 95.8,454 97.7,453.6 99.6,451.3 101.5,451.2 103.4,449.4 105.3,448.6 107.2,447.7 109.1,447.1 111,446.4 112.9,445.7 114.8,443.4 116.7,445.2 118.6,443.7 120.5,442.5 122.4,440.9 124.3,440.4 126.2,440 128.1,439 130,436.5 131.9,437.3 133.8,438 135.7,433.3 137.6,434.4 139.5,432.8 141.4,430.8 143.3,429.3 145.2,423.4 147.1,417.6 149,408 150.9,390.9 152.8,373.8 154.7,361.5 156.6,349.4 158.5,345.9 160.4,341.9 162.3,341.9 164.2,339.2 166.1,339.3 168,336.8 169.9,332.6 171.8,332.2 173.7,329.1 175.6,327.7 177.5,327.5 179.4,323.8 181.3,322.4 183.2,322.8 185.1,320.4 187,320.2 188.9,318 190.8,315.8 192.7,315.2 194.6,315 196.5,313.7 198.4,311.9 200.3,310.9 202.2,309.8 204.1,308.4 206,309.4 207.9,307 209.8,305.2 211.7,304.8 213.6,304.9 215.5,304 217.4,302.6 219.3,301.4 221.2,301.1 223.1,299 225,298.6 226.9,299.5 228.8,297.8 230.7,297.7 232.6,297.7 234.5,296.6 236.4,295.5 238.3,296.4 240.2,294.7 242.1,293.2 244,293.5 245.9,292.6 247.8,291 249.7,291.2 251.6,290.4 253.5,288.4 255.4,289.3 257.3,288.6 259.2,288 261.1,286.5 263,286.9 264.9,286.6 266.8,286.2 268.7,284.7 270.6,285.5 272.5,283.6 274.4,283.8 276.3,284.4 278.2,282.3 280.1,281.9 282,282.5 283.9,280.8 285.8,280.3 287.7,280.1 289.6,280.2 291.5,277.1 293.4,277.5 295.3,276.8 297.2,276.2 299.1,275.7 301,275.2 302.9,275.4 304.8,273.9 306.7,274.1 308.6,273.7 310.5,272.3 312.4,272.4 314.3,273 316.2,271.4 318.1,270.1 320,270 321.9,268.8 323.8,269.2 325.7,269.1 327.6,267.3 329.5,267.2 331.4,267.8 333.3,266 335.2,266.1 337.1,264.7 339,264.3 340.9,264.1 342.8,265.7 344.7,263.3 346.6,262.7 348.5,262.3 350.4,262.1 352.3,262.3 354.2,261.5 356.1,262.5 358,260.7 359.9,261.2 361.8,259.9 363.7,259.8 365.6,257.8 367.5,258.4 369.4,258.1 371.3,257.6" fill="none" stroke="#ff0020" stroke-width=".8" stroke-linejoin="round"/>
<polyline points="74.9,460.1 76.8,460.7 78.7,459.5 80.6,459.5 82.5,457.7 84.4,457.9 86.3,458.8 88.2,455.3 90.1,456.5 92,456.2 93.9,454.5 95.8,454 97.7,453.6 99.6,451.3 101.5,451.2 103.4,449.4 105.3,448.6 107.2,447.7 109.1,447.1 111,446.4 112.9,445.7 114.8,443.4 116.7,445.2 118.6,443.7 120.5,442.5 122.4,440.9 124.3,440.4 126.2,440 128.1,439 130,436.5 131.9,437.3 133.8,438 135.7,433.3 137.6,434.4 139.5,432.8 141.4,430.8 160.4,341.9 162.3,341.9 164.2,339.2 166.1,339.3 168,336.8 169.9,332.6 171.8,332.2 173.7,329.1 175.6,327.7 177.5,327.5 179.4,323.8 181.3,322.4 183.2,322.8 185.1,320.4 187,320.2 188.9,318 190.8,315.8 192.7,315.2 194.6,315 196.5,313.7 198.4,311.9 200.3,310.9 202.2,309.8 204.1,308.4 206,309.4 207.9,307 209.8,305.2 211.7,304.8 213.6,304.9 215.5,304 217.4,302.6 219.3,301.4 221.2,301.1 223.1,299 225,298.6 226.9,299.5 228.8,297.8 230.7,297.7 232.6,297.7 234.5,296.6 236.4,295.5 238.3,296.4 240.2,294.7 242.1,293.2 244,293.5 245.9,292.6 247.8,291 249.7,291.2 251.6,290.4 253.5,288.4 255.4,289.3 257.3,288.6 259.2,288 261.1,286.5 263,286.9 264.9,286.6 266.8,286.2 268.7,284.7 270.6,285.5 272.5,283.6 274.4,283.8 276.3,284.4 278.2,282.3 280.1,281.9 282,282.5 283.9,280.8 285.8,280.3 287.7,280.1 289.6,280.2 291.5,277.1 293.4,277.5 295.3,276.8 297.2,276.2 299.1,275.7 301,275.2 302.9,275.4 304.8,273.9 306.7,274.1 308.6,273.7 310.5,272.3 312.4,272.4 314.3,273 316.2,271.4 318.1,270.1 320,270 321.9,268.8 323.8,269.2 325.7,269.1 327.6,267.3 329.5,267.2 331.4,267.8 333.3,266 335.2,266.1 337.1,264.7 339,264.3 340.9,264.1 342.8,265.7 344.7,263.3 346.6,262.7 348.5,262.3 350.4,262.1 352.3,262.3 354.2,261.5 356.1,262.5 358,260.7 359.9,261.2 361.8,259.9 363.7,259.8 365.6,257.8 367.5,258.4 369.4,258.1 371.3,257.6" fill="none" stroke="none" marker-start="url(#sr)" marker-mid="url(#sr)" marker-end="url(#sr)"/>
<polyline points="143.3,429.3 145.2,423.4 147.1,417.6 149,408 150.9,390.9 152.8,373.8 154.7,361.5 156.6,349.4 158.5,345.9 143.2,426.3 146.6,420.5 147.4,415.2 147.8,412.8 148.4,410.4 149.2,405.1 149.8,402.3 149.3,399.4 149.8,396.6 150.7,393.7 151.3,388 151.3,385.2 151.6,382.3 151.7,379.5 152.5,376.6 153.9,370.7 153.2,367.6 155,364.6 155.6,358.5 155.4,355.4 156.5,352.4 156.8,347.7 158.6,343.9" fill="none" stroke="none" marker-start="url(#lr)" marker-mid="url(#lr)" marker-end="url(#lr)"/>
<polyline points="74.9,449.1 76.8,449.5 78.7,449.2 80.6,448.6 82.5,448.7 84.4,446.5 86.3,448 88.2,446 90.1,445.9 92,445.5 93.9,444.2 95.8,443.3 97.7,442.8 99.6,442.7 101.5,442.3 103.4,441.3 105.3,439.1 107.2,438.1 109.1,436.9 111,436.8 112.9,434 114.8,435.6 116.7,433.3 118.6,432.1 120.5,431.8 122.4,431 124.3,429.1 126.2,428.1 128.1,425.5 130,424.1 131.9,421.8 133.8,418.4 135.7,417.2 137.6,413.7 139.5,410.8 141.4,406.7 143.3,402.7 145.2,398.8 147.1,392.4 149,389.4 150.9,385.7 152.8,380.8 154.7,371.4 156.6,361.9 158.5,353.6 160.4,349.1 162.3,348.5 164.2,345.9 166.1,347.4 168,345 169.9,344.2 171.8,339.9 173.7,339.5 175.6,336.8 177.5,335.7 179.4,332.6 181.3,331 183.2,331.5 185.1,327.5 187,325.9 188.9,324.7 190.8,322.6 192.7,322.7 194.6,321.6 196.5,318.4 198.4,316.2 200.3,317 202.2,315.6 204.1,314.1 206,313.2 207.9,310.6 209.8,310 211.7,308.1 213.6,307 215.5,307.8 217.4,305.6 219.3,306.9 221.2,304.3 223.1,302.9 225,303.1 226.9,303 228.8,301.2 230.7,299.1 232.6,299.5 234.5,299.4 236.4,297.3 238.3,296.3 240.2,296.9 242.1,295.5 244,293.8 245.9,293.7 247.8,292.7 249.7,292.8 251.6,291.9 253.5,292 255.4,291 257.3,288.7 259.2,289.5 261.1,289.2 263,288.2 264.9,288 266.8,286.2 268.7,285.3 270.6,286.1 272.5,284 274.4,282.5 276.3,284.3 278.2,282.4 280.1,282 282,280.6 283.9,280 285.8,279.5 287.7,279.5 289.6,279.4 291.5,276.7 293.4,278.4 295.3,276.3 297.2,275.7 299.1,276.4 301,275.2 302.9,273.5 304.8,275.4 306.7,272.8 308.6,273 310.5,272.4 312.4,272.7 314.3,270.8 316.2,271.4 318.1,269.5 320,270.4 321.9,268.5 323.8,268.4 325.7,269.7 327.6,268.1 329.5,267.5 331.4,268.7 333.3,267 335.2,265.7 337.1,266.6 339,264.8 340.9,266.2 342.8,266 344.7,264.3 346.6,264 348.5,264.3 350.4,263.9 352.3,262.9 354.2,263.8 356.1,261.6 358,262.6 359.9,262.4 361.8,262.3 363.7,262.5 365.6,261.2 367.5,262.4 369.4,261.7 371.3,261.2" fill="none" stroke="#ff9a00" stroke-width=".8" stroke-linejoin="round"/>
<polyline points="74.9,449.1 76.8,449.5 78.7,449.2 80.6,448.6 82.5,448.7 84.4,446.5 86.3,448 88.2,446 90.1,445.9 92,445.5 93.9,444.2 95.8,443.3 97.7,442.8 99.6,442.7 101.5,442.3 103.4,441.3 105.3,439.1 107.2,438.1 109.1,436.9 111,436.8 112.9,434 114.8,435.6 116.7,433.3 118.6,432.1 120.5,431.8 122.4,431 124.3,429.1 126.2,428.1 128.1,425.5 130,424.1 131.9,421.8 133.8,418.4 135.7,417.2 137.6,413.7 139.5,410.8 160.4,349.1 162.3,348.5 164.2,345.9 166.1,347.4 168,345 169.9,344.2 171.8,339.9 173.7,339.5 175.6,336.8 177.5,335.7 179.4,332.6 181.3,331 183.2,331.5 185.1,327.5 187,325.9 188.9,324.7 190.8,322.6 192.7,322.7 194.6,321.6 196.5,318.4 198.4,316.2 200.3,317 202.2,315.6 204.1,314.1 206,313.2 207.9,310.6 209.8,310 211.7,308.1 213.6,307 215.5,307.8 217.4,305.6 219.3,306.9 221.2,304.3 223.1,302.9 225,303.1 226.9,303 228.8,301.2 230.7,299.1 232.6,299.5 234.5,299.4 236.4,297.3 238.3,296.3 240.2,296.9 242.1,295.5 244,293.8 245.9,293.7 247.8,292.7 249.7,292.8 251.6,291.9 253.5,292 255.4,291 257.3,288.7 259.2,289.5 261.1,289.2 263,288.2 264.9,288 266.8,286.2 268.7,285.3 270.6,286.1 272.5,284 274.4,282.5 276.3,284.3 278.2,282.4 280.1,282 282,280.6 283.9,280 285.8,279.5 287.7,279.5 289.6,279.4 291.5,276.7 293.4,278.4 295.3,276.3 297.2,275.7 299.1,276.4 301,275.2 302.9,273.5 304.8,275.4 306.7,272.8 308.6,273 310.5,272.4 312.4,272.7 314.3,270.8 316.2,271.4 318.1,269.5 320,270.4 321.9,268.5 323.8,268.4 325.7,269.7 327.6,268.1 329.5,267.5 331.4,268.7 333.3,267 335.2,265.7 337.1,266.6 339,264.8 340.9,266.2 342.8,266 344.7,264.3 346.6,264 348.5,264.3 350.4,263.9 352.3,262.9 354.2,263.8 356.1,261.6 358,262.6 359.9,262.4 361.8,262.3 363.7,262.5 365.6,261.2 367.5,262.4 369.4,261.7 371.3,261.2" fill="none" stroke="none" marker-start="url(#so)" marker-mid="url(#so)" marker-end="url(#so)"/>
<polyline points="141.4,406.7 143.3,402.7 145.2,398.8 147.1,392.4 149,389.4 150.9,385.7 152.8,380.8 154.7,371.4 156.6,361.9 158.5,353.6 139.8,408.7 141.8,404.7 144.4,400.8 145.4,396.6 146.5,394.5 148.6,390.9 150.5,387.6 152.6,383.3 153.1,378.5 153.2,376.1 154.7,373.8 155.3,369 156.2,366.7 156.1,364.3 157.8,359.2 158.3,356.4 159.8,351.4" fill="none" stroke="none" marker-start="url(#lo)" marker-mid="url(#lo)" marker-end="url(#lo)"/>
<polyline points="74.9,435.5 76.8,434.8 78.7,434.1 80.6,433.5 82.5,433.3 84.4,431.5 86.3,432.4 88.2,430.2 90.1,430.1 92,428.4 93.9,427.3 95.8,428 97.7,425.2 99.6,423.3 101.5,422.6 103.4,421.7 105.3,422.2 107.2,419.3 109.1,418.4 111,415.5 112.9,415.3 114.8,414.2 116.7,413.8 118.6,410.5 120.5,410.2 122.4,408.5 124.3,405.9 126.2,404.7 128.1,402.1 130,397.8 131.9,396.9 133.8,393.2 135.7,387.7 137.6,380.4 139.5,375.9 141.4,369.1 143.3,365.1 145.2,361.7 147.1,357.2 149,355.6 150.9,353.1 152.8,352 154.7,350.9 156.6,349.9 158.5,349.6 160.4,347.5 162.3,345.8 164.2,344.3 166.1,343.2 168,340.7 169.9,339.4 171.8,338.2 173.7,336.2 175.6,335 177.5,333 179.4,333.4 181.3,331.2 183.2,328.9 185.1,326.9 187,327 188.9,324.1 190.8,322.3 192.7,321.2 194.6,319.9 196.5,319.4 198.4,317 200.3,317.3 202.2,313.9 204.1,313.9 206,311.5 207.9,312.5 209.8,309.8 211.7,308.9 213.6,308.6 215.5,307.8 217.4,305 219.3,304.6 221.2,302.8 223.1,303 225,301.9 226.9,300.8 228.8,299.7 230.7,299 232.6,297.9 234.5,298 236.4,297.9 238.3,294.5 240.2,295.1 242.1,294.1 244,294 245.9,292.2 247.8,292.1 249.7,290.7 251.6,291.3 253.5,290.2 255.4,289.3 257.3,289.1 259.2,287.9 261.1,286.3 263,287.3 264.9,286.4 266.8,285.5 268.7,285.7 270.6,285.3 272.5,282.9 274.4,282.5 276.3,283.7 278.2,283 280.1,280.7 282,279.8 283.9,279.6 285.8,279.1 287.7,277.7 289.6,278.3 291.5,276.7 293.4,276.1 295.3,277.1 297.2,275.3 299.1,275.2 301,275.1 302.9,274.7 304.8,273.2 306.7,272.9 308.6,271.7 310.5,273.1 312.4,271.7 314.3,269.8 316.2,270.1 318.1,270.1 320,269.3 321.9,269.8 323.8,269 325.7,267 327.6,266.8 329.5,265.4 331.4,266.1 333.3,265.5 335.2,267 337.1,264.5 339,262.4 340.9,263 342.8,263.1 344.7,261.6 346.6,261.5 348.5,261.4 350.4,261.5 352.3,260.7 354.2,259.7 356.1,260.6 358,259.1 359.9,258.8 361.8,257.7 363.7,257.7 365.6,258.4 367.5,256.3 369.4,257.1 371.3,257.3" fill="none" stroke="#ff40ff" stroke-width=".8" stroke-linejoin="round"/>
<polyline points="74.9,435.5 76.8,434.8 78.7,434.1 80.6,433.5 82.5,433.3 84.4,431.5 86.3,432.4 88.2,430.2 90.1,430.1 92,428.4 93.9,427.3 95.8,428 97.7,425.2 99.6,423.3 101.5,422.6 103.4,421.7 105.3,422.2 107.2,419.3 109.1,418.4 111,415.5 112.9,415.3 114.8,414.2 116.7,413.8 118.6,410.5 120.5,410.2 122.4,408.5 124.3,405.9 126.2,404.7 128.1,402.1 130,397.8 147.1,357.2 149,355.6 150.9,353.1 152.8,352 154.7,350.9 156.6,349.9 158.5,349.6 160.4,347.5 162.3,345.8 164.2,344.3 166.1,343.2 168,340.7 169.9,339.4 171.8,338.2 173.7,336.2 175.6,335 177.5,333 179.4,333.4 181.3,331.2 183.2,328.9 185.1,326.9 187,327 188.9,324.1 190.8,322.3 192.7,321.2 194.6,319.9 196.5,319.4 198.4,317 200.3,317.3 202.2,313.9 204.1,313.9 206,311.5 207.9,312.5 209.8,309.8 211.7,308.9 213.6,308.6 215.5,307.8 217.4,305 219.3,304.6 221.2,302.8 223.1,303 225,301.9 226.9,300.8 228.8,299.7 230.7,299 232.6,297.9 234.5,298 236.4,297.9 238.3,294.5 240.2,295.1 242.1,294.1 244,294 245.9,292.2 247.8,292.1 249.7,290.7 251.6,291.3 253.5,290.2 255.4,289.3 257.3,289.1 259.2,287.9 261.1,286.3 263,287.3 264.9,286.4 266.8,285.5 268.7,285.7 270.6,285.3 272.5,282.9 274.4,282.5 276.3,283.7 278.2,283 280.1,280.7 282,279.8 283.9,279.6 285.8,279.1 287.7,277.7 289.6,278.3 291.5,276.7 293.4,276.1 295.3,277.1 297.2,275.3 299.1,275.2 301,275.1 302.9,274.7 304.8,273.2 306.7,272.9 308.6,271.7 310.5,273.1 312.4,271.7 314.3,269.8 316.2,270.1 318.1,270.1 320,269.3 321.9,269.8 323.8,269 325.7,267 327.6,266.8 329.5,265.4 331.4,266.1 333.3,265.5 335.2,267 337.1,264.5 339,262.4 340.9,263 342.8,263.1 344.7,261.6 346.6,261.5 348.5,261.4 350.4,261.5 352.3,260.7 354.2,259.7 356.1,260.6 358,259.1 359.9,258.8 361.8,257.7 363.7,257.7 365.6,258.4 367.5,256.3 369.4,257.1 371.3,257.3" fill="none" stroke="none" marker-start="url(#sm)" marker-mid="url(#sm)" marker-end="url(#sm)"/>
<polyline points="131.9,396.9 133.8,393.2 135.7,387.7 137.6,380.4 139.5,375.9 141.4,369.1 143.3,365.1 145.2,361.7 132.7,395.1 134.9,390.4 135.8,385.2 137.6,382.8 139.1,378.1 140.3,373.6 139.9,371.4 141.8,367.1 144.7,363.4 147,359.4" fill="none" stroke="none" marker-start="url(#lm)" marker-mid="url(#lm)" marker-end="url(#lm)"/>
<polyline points="74.9,433.1 76.8,433.3 78.7,431.4 80.6,431.2 82.5,430.8 84.4,430.5 86.3,428.3 88.2,429.4 90.1,429 92,426.3 93.9,425.2 95.8,425.5 97.7,423.7 99.6,421.4 101.5,422.6 103.4,420.9 105.3,419.2 107.2,419.8 109.1,416.8 111,414.8 112.9,414.2 114.8,412.1 116.7,411.1 118.6,410.7 120.5,408.8 122.4,407.7 124.3,408.1 126.2,406 128.1,404.3 130,402.3 131.9,400.4 133.8,399.4 135.7,396.6 137.6,396.3 139.5,392.5 141.4,391.3 143.3,389 145.2,388.3 147.1,387 149,384.4 150.9,374.5 152.8,364.4 154.7,355 156.6,349.8 158.5,346.6 160.4,346.1 162.3,344.8 164.2,346.3 166.1,346.3 168,345.6 169.9,344.1 171.8,341.9 173.7,342.2 175.6,338.1 177.5,338.7 179.4,336.4 181.3,334.2 183.2,332.1 185.1,332.2 187,331.3 188.9,328 190.8,327.2 192.7,327.1 194.6,325.4 196.5,325.6 198.4,322.6 200.3,322.4 202.2,320 204.1,321.5 206,318.4 207.9,316.3 209.8,316.9 211.7,315.9 213.6,316.4 215.5,313.8 217.4,313.1 219.3,312.6 221.2,312.4 223.1,310.2 225,310.1 226.9,308.8 228.8,307.3 230.7,306.7 232.6,305.7 234.5,304.1 236.4,304.8 238.3,302 240.2,303 242.1,302 244,300.3 245.9,298.9 247.8,298.5 249.7,298.2 251.6,297.5 253.5,296.4 255.4,296.1 257.3,294.1 259.2,293.9 261.1,291.8 263,292.7 264.9,291.5 266.8,290.4 268.7,290.8 270.6,289.7 272.5,286.4 274.4,287.8 276.3,286 278.2,287.2 280.1,287.5 282,284.6 283.9,284.4 285.8,283.4 287.7,283.2 289.6,282.8 291.5,282.6 293.4,280.3 295.3,281.5 297.2,279 299.1,279.3 301,279.3 302.9,278.4 304.8,276.5 306.7,276.1 308.6,275.6 310.5,275.3 312.4,275.6 314.3,273.2 316.2,273.9 318.1,273.5 320,272.8 321.9,272.2 323.8,272.4 325.7,271.1 327.6,270.8 329.5,270 331.4,270.4 333.3,267.1 335.2,269 337.1,267.3 339,266.8 340.9,265.8 342.8,264.7 344.7,265.3 346.6,264.6 348.5,265 350.4,263.1 352.3,264.9 354.2,263.6 356.1,262.7 358,262 359.9,261.5 361.8,260.8 363.7,260.9 365.6,260.9 367.5,260.4 369.4,259.1 371.3,259.5" fill="none" stroke="#00ff00" stroke-width=".8" stroke-linejoin="round"/>
<polyline points="74.9,433.1 76.8,433.3 78.7,431.4 80.6,431.2 82.5,430.8 84.4,430.5 86.3,428.3 88.2,429.4 90.1,429 92,426.3 93.9,425.2 95.8,425.5 97.7,423.7 99.6,421.4 101.5,422.6 103.4,420.9 105.3,419.2 107.2,419.8 109.1,416.8 111,414.8 112.9,414.2 114.8,412.1 116.7,411.1 118.6,410.7 120.5,408.8 122.4,407.7 124.3,408.1 126.2,406 128.1,404.3 130,402.3 131.9,400.4 133.8,399.4 135.7,396.6 137.6,396.3 139.5,392.5 141.4,391.3 143.3,389 145.2,388.3 147.1,387 158.5,346.6 160.4,346.1 162.3,344.8 164.2,346.3 166.1,346.3 168,345.6 169.9,344.1 171.8,341.9 173.7,342.2 175.6,338.1 177.5,338.7 179.4,336.4 181.3,334.2 183.2,332.1 185.1,332.2 187,331.3 188.9,328 190.8,327.2 192.7,327.1 194.6,325.4 196.5,325.6 198.4,322.6 200.3,322.4 202.2,320 204.1,321.5 206,318.4 207.9,316.3 209.8,316.9 211.7,315.9 213.6,316.4 215.5,313.8 217.4,313.1 219.3,312.6 221.2,312.4 223.1,310.2 225,310.1 226.9,308.8 228.8,307.3 230.7,306.7 232.6,305.7 234.5,304.1 236.4,304.8 238.3,302 240.2,303 242.1,302 244,300.3 245.9,298.9 247.8,298.5 249.7,298.2 251.6,297.5 253.5,296.4 255.4,296.1 257.3,294.1 259.2,293.9 261.1,291.8 263,292.7 264.9,291.5 266.8,290.4 268.7,290.8 270.6,289.7 272.5,286.4 274.4,287.8 276.3,286 278.2,287.2 280.1,287.5 282,284.6 283.9,284.4 285.8,283.4 287.7,283.2 289.6,282.8 291.5,282.6 293.4,280.3 295.3,281.5 297.2,279 299.1,279.3 301,279.3 302.9,278.4 304.8,276.5 306.7,276.1 308.6,275.6 310.5,275.3 312.4,275.6 314.3,273.2 316.2,273.9 318.1,273.5 320,272.8 321.9,272.2 323.8,272.4 325.7,271.1 327.6,270.8 329.5,270 331.4,270.4 333.3,267.1 335.2,269 337.1,267.3 339,266.8 340.9,265.8 342.8,264.7 344.7,265.3 346.6,264.6 348.5,265 350.4,263.1 352.3,264.9 354.2,263.6 356.1,262.7 358,262 359.9,261.5 361.8,260.8 363.7,260.9 365.6,260.9 367.5,260.4 369.4,259.1 371.3,259.5" fill="none" stroke="none" marker-start="url(#sg1)" marker-mid="url(#sg1)" marker-end="url(#sg1)"/>
<polyline points="149,384.4 150.9,374.5 152.8,364.4 154.7,355 156.6,349.8 147.6,385.7 149.6,381.9 150.9,379.4 150.7,377 151.2,372 151,369.5 151.6,366.9 152.4,362.1 154.1,359.7 153.8,357.4 155.7,352.4 157.2,348.2" fill="none" stroke="none" marker-start="url(#lg1)" marker-mid="url(#lg1)" marker-end="url(#lg1)"/>
<polyline points="74.9,428.9 76.8,429.4 78.7,427.3 80.6,427.1 82.5,426.2 84.4,426.8 86.3,424.7 88.2,423.9 90.1,422.9 92,422.1 93.9,422.6 95.8,423.2 97.7,419.5 99.6,419.9 101.5,418.2 103.4,416 105.3,415.3 107.2,414 109.1,412.2 111,412.8 112.9,408.7 114.8,409.1 116.7,407.9 118.6,406 120.5,405.4 122.4,404.7 124.3,402.9 126.2,401.7 128.1,400.2 130,396.3 131.9,397.1 133.8,396 135.7,393.3 137.6,391.7 139.5,388.1 141.4,387.4 143.3,385.4 145.2,384 147.1,383.2 149,378.8 150.9,372.5 152.8,361.1 154.7,353.2 156.6,348.4 158.5,345 160.4,343.5 162.3,345.5 164.2,343.3 166.1,343.5 168,343.5 169.9,343.8 171.8,342.5 173.7,339.1 175.6,336.6 177.5,335.2 179.4,334.8 181.3,331.8 183.2,332 185.1,330.5 187,328.1 188.9,327.2 190.8,326 192.7,325.5 194.6,322.4 196.5,323 198.4,320.8 200.3,319.4 202.2,319.1 204.1,317.8 206,316.2 207.9,314.7 209.8,314.2 211.7,315.1 213.6,314.5 215.5,312.5 217.4,312 219.3,309.8 221.2,309.1 223.1,308.5 225,306.5 226.9,305.7 228.8,305.6 230.7,304.4 232.6,302.9 234.5,303.1 236.4,301.7 238.3,301.8 240.2,300.1 242.1,299 244,298.5 245.9,297.4 247.8,296.2 249.7,295.5 251.6,295.5 253.5,294.6 255.4,294.3 257.3,291.2 259.2,291.4 261.1,290.6 263,290.3 264.9,289.1 266.8,288.3 268.7,288.5 270.6,287.3 272.5,285.6 274.4,286.8 276.3,285.8 278.2,283.9 280.1,284.3 282,282.4 283.9,283.1 285.8,281.5 287.7,280.4 289.6,280 291.5,279.1 293.4,279.1 295.3,278.5 297.2,277.7 299.1,276.7 301,273.7 302.9,275.9 304.8,273.8 306.7,274.8 308.6,274.8 310.5,273.6 312.4,272.5 314.3,272 316.2,271.5 318.1,270.6 320,270 321.9,269.1 323.8,270.2 325.7,268.7 327.6,268.9 329.5,267.4 331.4,267.1 333.3,266.4 335.2,266.4 337.1,266.2 339,265.2 340.9,264 342.8,263.5 344.7,264.8 346.6,262.9 348.5,262.5 350.4,263.3 352.3,262.6 354.2,261.8 356.1,260.6 358,262.3 359.9,260.4 361.8,260.1 363.7,259.2 365.6,257.8 367.5,257.5 369.4,258.4 371.3,258" fill="none" stroke="#00e000" stroke-width=".8" stroke-linejoin="round"/>
<polyline points="74.9,428.9 76.8,429.4 78.7,427.3 80.6,427.1 82.5,426.2 84.4,426.8 86.3,424.7 88.2,423.9 90.1,422.9 92,422.1 93.9,422.6 95.8,423.2 97.7,419.5 99.6,419.9 101.5,418.2 103.4,416 105.3,415.3 107.2,414 109.1,412.2 111,412.8 112.9,408.7 114.8,409.1 116.7,407.9 118.6,406 120.5,405.4 122.4,404.7 124.3,402.9 126.2,401.7 128.1,400.2 130,396.3 131.9,397.1 133.8,396 135.7,393.3 137.6,391.7 139.5,388.1 141.4,387.4 143.3,385.4 145.2,384 147.1,383.2 158.5,345 160.4,343.5 162.3,345.5 164.2,343.3 166.1,343.5 168,343.5 169.9,343.8 171.8,342.5 173.7,339.1 175.6,336.6 177.5,335.2 179.4,334.8 181.3,331.8 183.2,332 185.1,330.5 187,328.1 188.9,327.2 190.8,326 192.7,325.5 194.6,322.4 196.5,323 198.4,320.8 200.3,319.4 202.2,319.1 204.1,317.8 206,316.2 207.9,314.7 209.8,314.2 211.7,315.1 213.6,314.5 215.5,312.5 217.4,312 219.3,309.8 221.2,309.1 223.1,308.5 225,306.5 226.9,305.7 228.8,305.6 230.7,304.4 232.6,302.9 234.5,303.1 236.4,301.7 238.3,301.8 240.2,300.1 242.1,299 244,298.5 245.9,297.4 247.8,296.2 249.7,295.5 251.6,295.5 253.5,294.6 255.4,294.3 257.3,291.2 259.2,291.4 261.1,290.6 263,290.3 264.9,289.1 266.8,288.3 268.7,288.5 270.6,287.3 272.5,285.6 274.4,286.8 276.3,285.8 278.2,283.9 280.1,284.3 282,282.4 283.9,283.1 285.8,281.5 287.7,280.4 289.6,280 291.5,279.1 293.4,279.1 295.3,278.5 297.2,277.7 299.1,276.7 301,273.7 302.9,275.9 304.8,273.8 306.7,274.8 308.6,274.8 310.5,273.6 312.4,272.5 314.3,272 316.2,271.5 318.1,270.6 320,270 321.9,269.1 323.8,270.2 325.7,268.7 327.6,268.9 329.5,267.4 331.4,267.1 333.3,266.4 335.2,266.4 337.1,266.2 339,265.2 340.9,264 342.8,263.5 344.7,264.8 346.6,262.9 348.5,262.5 350.4,263.3 352.3,262.6 354.2,261.8 356.1,260.6 358,262.3 359.9,260.4 361.8,260.1 363.7,259.2 365.6,257.8 367.5,257.5 369.4,258.4 371.3,258" fill="none" stroke="none" marker-start="url(#sg2)" marker-mid="url(#sg2)" marker-end="url(#sg2)"/>
<polyline points="149,378.8 150.9,372.5 152.8,361.1 154.7,353.2 156.6,348.4 147.9,381 149,376.7 149.5,374.6 151.2,369.7 151.1,366.8 152.8,364 154,358.5 155.5,355.8 156.1,350.8 157.3,346.7" fill="none" stroke="none" marker-start="url(#lg2)" marker-mid="url(#lg2)" marker-end="url(#lg2)"/>
<polyline points="74.9,414.2 76.8,411.6 78.7,413.1 80.6,412.7 82.5,412.9 84.4,411.9 86.3,411.1 88.2,410.1 90.1,409.7 92,409.5 93.9,406.8 95.8,406.4 97.7,404.9 99.6,406.2 101.5,405.1 103.4,403.8 105.3,401.4 107.2,401.4 109.1,400.2 111,399.4 112.9,398.1 114.8,397.4 116.7,395.5 118.6,395.3 120.5,393.7 122.4,392.1 124.3,391.1 126.2,389.5 128.1,389 130,386.6 131.9,385.3 133.8,382.9 135.7,380.2 137.6,379.9 139.5,376 141.4,374.5 143.3,370.6 145.2,365.1 147.1,362.3 149,359.5 150.9,356.8 152.8,354.5 154.7,354.1 156.6,351.9 158.5,351.1 160.4,349.3 162.3,348.8 164.2,346.8 166.1,346.1 168,345.2 169.9,343.5 171.8,341.7 173.7,339.8 175.6,339.2 177.5,337.7 179.4,335.5 181.3,333.3 183.2,332.5 185.1,332.1 187,328.3 188.9,327.1 190.8,325.6 192.7,322 194.6,322.7 196.5,320.7 198.4,321 200.3,318.5 202.2,316.9 204.1,316.1 206,315.3 207.9,313.7 209.8,313 211.7,310.9 213.6,310.7 215.5,310.5 217.4,310.3 219.3,308.4 221.2,307.1 223.1,306.8 225,305.8 226.9,305.3 228.8,304 230.7,302.2 232.6,301.6 234.5,300.7 236.4,300 238.3,299.1 240.2,297.6 242.1,295.8 244,296.2 245.9,294.4 247.8,295.3 249.7,294.5 251.6,292.6 253.5,293.7 255.4,293.1 257.3,291.9 259.2,292.5 261.1,292 263,289 264.9,290.1 266.8,289 268.7,288.4 270.6,288.1 272.5,286.3 274.4,285.7 276.3,284.9 278.2,284.3 280.1,284.2 282,282.5 283.9,282.2 285.8,282.7 287.7,281.6 289.6,281.3 291.5,278.9 293.4,279.1 295.3,278.6 297.2,278.4 299.1,277.2 301,277.7 302.9,276.3 304.8,275.7 306.7,275.1 308.6,274.9 310.5,273.4 312.4,274 314.3,272.9 316.2,272 318.1,271.3 320,271.1 321.9,270.9 323.8,270.3 325.7,269.3 327.6,269.1 329.5,268 331.4,268.3 333.3,266.9 335.2,264.8 337.1,266.9 339,265.5 340.9,264 342.8,264.3 344.7,263.3 346.6,265.1 348.5,263.5 350.4,261.5 352.3,262.6 354.2,261.5 356.1,262.8 358,260.1 359.9,258.8 361.8,260.2 363.7,259.5 365.6,259 367.5,257.4 369.4,258.9 371.3,259.5" fill="none" stroke="#dda0cc" stroke-width=".8" stroke-linejoin="round"/>
<polyline points="74.9,414.2 76.8,411.6 78.7,413.1 80.6,412.7 82.5,412.9 84.4,411.9 86.3,411.1 88.2,410.1 90.1,409.7 92,409.5 93.9,406.8 95.8,406.4 97.7,404.9 99.6,406.2 101.5,405.1 103.4,403.8 105.3,401.4 107.2,401.4 109.1,400.2 111,399.4 112.9,398.1 114.8,397.4 116.7,395.5 118.6,395.3 120.5,393.7 122.4,392.1 124.3,391.1 126.2,389.5 128.1,389 130,386.6 131.9,385.3 133.8,382.9 135.7,380.2 137.6,379.9 139.5,376 149,359.5 150.9,356.8 152.8,354.5 154.7,354.1 156.6,351.9 158.5,351.1 160.4,349.3 162.3,348.8 164.2,346.8 166.1,346.1 168,345.2 169.9,343.5 171.8,341.7 173.7,339.8 175.6,339.2 177.5,337.7 179.4,335.5 181.3,333.3 183.2,332.5 185.1,332.1 187,328.3 188.9,327.1 190.8,325.6 192.7,322 194.6,322.7 196.5,320.7 198.4,321 200.3,318.5 202.2,316.9 204.1,316.1 206,315.3 207.9,313.7 209.8,313 211.7,310.9 213.6,310.7 215.5,310.5 217.4,310.3 219.3,308.4 221.2,307.1 223.1,306.8 225,305.8 226.9,305.3 228.8,304 230.7,302.2 232.6,301.6 234.5,300.7 236.4,300 238.3,299.1 240.2,297.6 242.1,295.8 244,296.2 245.9,294.4 247.8,295.3 249.7,294.5 251.6,292.6 253.5,293.7 255.4,293.1 257.3,291.9 259.2,292.5 261.1,292 263,289 264.9,290.1 266.8,289 268.7,288.4 270.6,288.1 272.5,286.3 274.4,285.7 276.3,284.9 278.2,284.3 280.1,284.2 282,282.5 283.9,282.2 285.8,282.7 287.7,281.6 289.6,281.3 291.5,278.9 293.4,279.1 295.3,278.6 297.2,278.4 299.1,277.2 301,277.7 302.9,276.3 304.8,275.7 306.7,275.1 308.6,274.9 310.5,273.4 312.4,274 314.3,272.9 316.2,272 318.1,271.3 320,271.1 321.9,270.9 323.8,270.3 325.7,269.3 327.6,269.1 329.5,268 331.4,268.3 333.3,266.9 335.2,264.8 337.1,266.9 339,265.5 340.9,264 342.8,264.3 344.7,263.3 346.6,265.1 348.5,263.5 350.4,261.5 352.3,262.6 354.2,261.5 356.1,262.8 358,260.1 359.9,258.8 361.8,260.2 363.7,259.5 365.6,259 367.5,257.4 369.4,258.9 371.3,259.5" fill="none" stroke="none" marker-start="url(#sp)" marker-mid="url(#sp)" marker-end="url(#sp)"/>
<polyline points="141.4,374.5 143.3,370.6 145.2,365.1 147.1,362.3 141.4,372.5 144.8,367.8 145.9,363.7 149.2,360.9" fill="none" stroke="none" marker-start="url(#lp)" marker-mid="url(#lp)" marker-end="url(#lp)"/>
<polyline points="74.9,384.1 76.8,383.1 78.7,383.6 80.6,382.6 82.5,381.2 84.4,381.6 86.3,380 88.2,378.3 90.1,380.5 92,377.9 93.9,376.9 95.8,376.7 97.7,374.4 99.6,373.5 101.5,373.1 103.4,372.1 105.3,371.4 107.2,371.1 109.1,368.9 111,368.6 112.9,367.6 114.8,365.4 116.7,365.4 118.6,363.7 120.5,364.3 122.4,363 124.3,361.8 126.2,359.9 128.1,360.2 130,358.6 131.9,358.9 133.8,357.3 135.7,355.9 137.6,356.3 139.5,355.1 141.4,353.1 143.3,353.3 145.2,351.1 147.1,350 149,349.1 150.9,347.3 152.8,346.3 154.7,345.3 156.6,345.4 158.5,344.2 160.4,341.8 162.3,342 164.2,339.6 166.1,338.8 168,338 169.9,336.3 171.8,336.6 173.7,333.6 175.6,331.2 177.5,331.7 179.4,329 181.3,327.8 183.2,324.4 185.1,326.1 187,324.7 188.9,323.5 190.8,322.4 192.7,321.8 194.6,319.3 196.5,318.9 198.4,316.5 200.3,315.6 202.2,315.5 204.1,313.9 206,311.5 207.9,311.7 209.8,310.2 211.7,308.6 213.6,308.6 215.5,307 217.4,305.2 219.3,304.6 221.2,305.9 223.1,302.7 225,303.2 226.9,302.7 228.8,301.9 230.7,299.8 232.6,299.7 234.5,299.4 236.4,299.1 238.3,297.4 240.2,296.3 242.1,297.2 244,296.6 245.9,295.4 247.8,294 249.7,294.1 251.6,293.2 253.5,293.1 255.4,290.9 257.3,291.3 259.2,290.5 261.1,289.2 263,289.6 264.9,288.9 266.8,287.9 268.7,288 270.6,286 272.5,286.5 274.4,286.3 276.3,285.6 278.2,285.6 280.1,283.4 282,282.5 283.9,283.3 285.8,282.8 287.7,283.5 289.6,281.7 291.5,280 293.4,280.6 295.3,278.8 297.2,277.6 299.1,280.1 301,277.7 302.9,277.4 304.8,276.7 306.7,277 308.6,275.3 310.5,275.4 312.4,273.1 314.3,272.3 316.2,273.9 318.1,273.4 320,272.2 321.9,271.5 323.8,271 325.7,269.8 327.6,271 329.5,269.9 331.4,269.3 333.3,268.7 335.2,268.7 337.1,267.8 339,267.5 340.9,265.6 342.8,266.4 344.7,267.1 346.6,264.6 348.5,264.4 350.4,264.7 352.3,264.3 354.2,263.5 356.1,261.4 358,262.5 359.9,260.9 361.8,260.8 363.7,261.4 365.6,260.5 367.5,261 369.4,262.4 371.3,260.3" fill="none" stroke="#2040ff" stroke-width=".8" stroke-linejoin="round"/>
<polyline points="74.9,384.1 76.8,383.1 78.7,383.6 80.6,382.6 82.5,381.2 84.4,381.6 86.3,380 88.2,378.3 90.1,380.5 92,377.9 93.9,376.9 95.8,376.7 97.7,374.4 99.6,373.5 101.5,373.1 103.4,372.1 105.3,371.4 107.2,371.1 109.1,368.9 111,368.6 112.9,367.6 114.8,365.4 116.7,365.4 118.6,363.7 120.5,364.3 122.4,363 124.3,361.8 126.2,359.9 128.1,360.2 130,358.6 131.9,358.9 133.8,357.3 135.7,355.9 137.6,356.3 139.5,355.1 141.4,353.1 143.3,353.3 145.2,351.1 147.1,350 149,349.1 150.9,347.3 152.8,346.3 154.7,345.3 156.6,345.4 158.5,344.2 160.4,341.8 162.3,342 164.2,339.6 166.1,338.8 168,338 169.9,336.3 171.8,336.6 173.7,333.6 175.6,331.2 177.5,331.7 179.4,329 181.3,327.8 183.2,324.4 185.1,326.1 187,324.7 188.9,323.5 190.8,322.4 192.7,321.8 194.6,319.3 196.5,318.9 198.4,316.5 200.3,315.6 202.2,315.5 204.1,313.9 206,311.5 207.9,311.7 209.8,310.2 211.7,308.6 213.6,308.6 215.5,307 217.4,305.2 219.3,304.6 221.2,305.9 223.1,302.7 225,303.2 226.9,302.7 228.8,301.9 230.7,299.8 232.6,299.7 234.5,299.4 236.4,299.1 238.3,297.4 240.2,296.3 242.1,297.2 244,296.6 245.9,295.4 247.8,294 249.7,294.1 251.6,293.2 253.5,293.1 255.4,290.9 257.3,291.3 259.2,290.5 261.1,289.2 263,289.6 264.9,288.9 266.8,287.9 268.7,288 270.6,286 272.5,286.5 274.4,286.3 276.3,285.6 278.2,285.6 280.1,283.4 282,282.5 283.9,283.3 285.8,282.8 287.7,283.5 289.6,281.7 291.5,280 293.4,280.6 295.3,278.8 297.2,277.6 299.1,280.1 301,277.7 302.9,277.4 304.8,276.7 306.7,277 308.6,275.3 310.5,275.4 312.4,273.1 314.3,272.3 316.2,273.9 318.1,273.4 320,272.2 321.9,271.5 323.8,271 325.7,269.8 327.6,271 329.5,269.9 331.4,269.3 333.3,268.7 335.2,268.7 337.1,267.8 339,267.5 340.9,265.6 342.8,266.4 344.7,267.1 346.6,264.6 348.5,264.4 350.4,264.7 352.3,264.3 354.2,263.5 356.1,261.4 358,262.5 359.9,260.9 361.8,260.8 363.7,261.4 365.6,260.5 367.5,261 369.4,262.4 371.3,260.3" fill="none" stroke="none" marker-start="url(#sb)" marker-mid="url(#sb)" marker-end="url(#sb)"/>
<rect class="ax" x="52.5" y="246.9" width="336.3" height="235.1"/>
<path class="ax" d="M57.3 482v-3M57.3 246.9v3M66.9 482v-3M66.9 246.9v3M76.5 482v-6.2M76.5 246.9v6.2M86.1 482v-3M86.1 246.9v3M95.7 482v-3M95.7 246.9v3M105.3 482v-3M105.3 246.9v3M114.9 482v-3M114.9 246.9v3M124.5 482v-6.2M124.5 246.9v6.2M134 482v-3M134 246.9v3M143.6 482v-3M143.6 246.9v3M153.2 482v-3M153.2 246.9v3M162.8 482v-3M162.8 246.9v3M172.4 482v-6.2M172.4 246.9v6.2M182 482v-3M182 246.9v3M191.6 482v-3M191.6 246.9v3M201.2 482v-3M201.2 246.9v3M210.8 482v-3M210.8 246.9v3M220.3 482v-6.2M220.3 246.9v6.2M229.9 482v-3M229.9 246.9v3M239.5 482v-3M239.5 246.9v3M249.1 482v-3M249.1 246.9v3M258.7 482v-3M258.7 246.9v3M268.3 482v-6.2M268.3 246.9v6.2M277.9 482v-3M277.9 246.9v3M287.5 482v-3M287.5 246.9v3M297.1 482v-3M297.1 246.9v3M306.7 482v-3M306.7 246.9v3M316.2 482v-6.2M316.2 246.9v6.2M325.8 482v-3M325.8 246.9v3M335.4 482v-3M335.4 246.9v3M345 482v-3M345 246.9v3M354.6 482v-3M354.6 246.9v3M364.2 482v-6.2M364.2 246.9v6.2M373.8 482v-3M373.8 246.9v3M383.4 482v-3M383.4 246.9v3M52.5 474.2h3M388.8 474.2h-3M52.5 466.3h3M388.8 466.3h-3M52.5 458.5h3M388.8 458.5h-3M52.5 450.7h3M388.8 450.7h-3M52.5 442.8h6.2M388.8 442.8h-6.2M52.5 435h3M388.8 435h-3M52.5 427.1h3M388.8 427.1h-3M52.5 419.3h3M388.8 419.3h-3M52.5 411.5h3M388.8 411.5h-3M52.5 403.6h6.2M388.8 403.6h-6.2M52.5 395.8h3M388.8 395.8h-3M52.5 388h3M388.8 388h-3M52.5 380.1h3M388.8 380.1h-3M52.5 372.3h3M388.8 372.3h-3M52.5 364.5h6.2M388.8 364.5h-6.2M52.5 356.6h3M388.8 356.6h-3M52.5 348.8h3M388.8 348.8h-3M52.5 340.9h3M388.8 340.9h-3M52.5 333.1h3M388.8 333.1h-3M52.5 325.3h6.2M388.8 325.3h-6.2M52.5 317.4h3M388.8 317.4h-3M52.5 309.6h3M388.8 309.6h-3M52.5 301.8h3M388.8 301.8h-3M52.5 293.9h3M388.8 293.9h-3M52.5 286.1h6.2M388.8 286.1h-6.2M52.5 278.2h3M388.8 278.2h-3M52.5 270.4h3M388.8 270.4h-3M52.5 262.6h3M388.8 262.6h-3M52.5 254.7h3M388.8 254.7h-3"/>
<text class="tk" x="49.9" y="488" text-anchor="end">0<tspan dx="-.7">.</tspan><tspan dx="-.7">9</tspan></text>
<text class="tk" x="49.9" y="448.8" text-anchor="end">1</text>
<text class="tk" x="49.9" y="409.6" text-anchor="end">1<tspan dx="-.7">.</tspan><tspan dx="-.7">1</tspan></text>
<text class="tk" x="49.9" y="370.4" text-anchor="end">1<tspan dx="-.7">.</tspan><tspan dx="-.7">2</tspan></text>
<text class="tk" x="49.9" y="331.3" text-anchor="end">1<tspan dx="-.7">.</tspan><tspan dx="-.7">3</tspan></text>
<text class="tk" x="49.9" y="292.1" text-anchor="end">1<tspan dx="-.7">.</tspan><tspan dx="-.7">4</tspan></text>
<text class="tk" transform="translate(20.4 364.9) rotate(-90)" text-anchor="middle">ρ [g/cm<tspan font-size="11.5" dy="-11.3">3</tspan><tspan dy="11.3">]</tspan></text>
<text class="tt" x="70.3" y="287.2"><tspan font-weight="bold" font-style="italic">(b)</tspan><tspan dx="4.6">T=120 K</tspan></text>
<rect x="280.8" y="297.8" width="89.2" height="172.3" fill="#fff" stroke="#6a6a72" stroke-width=".95"/>
<path d="M284.5 309.5h13.2" stroke="#000000" stroke-width="1.2"/>
<text class="lg" x="304.8" y="311.4">χ<tspan font-size="10.5" dy="5.5">g</tspan><tspan dy="-5.5">=0%</tspan></text>
<path d="M284.5 330.6h13.2" stroke="#ff0020" stroke-width="1.2"/>
<text class="lg" x="304.8" y="332.5">χ<tspan font-size="10.5" dy="5.5">g</tspan><tspan dy="-5.5">=0.14%</tspan></text>
<path d="M284.5 351.7h13.2" stroke="#ff9a00" stroke-width="1.2"/>
<text class="lg" x="304.8" y="353.6">χ<tspan font-size="10.5" dy="5.5">g</tspan><tspan dy="-5.5">=0.95%</tspan></text>
<path d="M284.5 372.8h13.2" stroke="#ff40ff" stroke-width="1.2"/>
<text class="lg" x="304.8" y="374.7">χ<tspan font-size="10.5" dy="5.5">g</tspan><tspan dy="-5.5">=2.02%</tspan></text>
<path d="M284.5 393.9h13.2" stroke="#00ff00" stroke-width="1.2"/>
<text class="lg" x="304.8" y="395.8">χ<tspan font-size="10.5" dy="5.5">g</tspan><tspan dy="-5.5">=3.06%</tspan></text>
<path d="M284.5 415h13.2" stroke="#00e000" stroke-width="1.2"/>
<text class="lg" x="304.8" y="416.9">χ<tspan font-size="10.5" dy="5.5">g</tspan><tspan dy="-5.5">=3.95%</tspan></text>
<path d="M284.5 436.1h13.2" stroke="#dda0cc" stroke-width="1.2"/>
<text class="lg" x="304.8" y="438">χ<tspan font-size="10.5" dy="5.5">g</tspan><tspan dy="-5.5">=4.95%</tspan></text>
<path d="M284.5 457.2h13.2" stroke="#2040ff" stroke-width="1.2"/>
<text class="lg" x="304.8" y="459.1">χ<tspan font-size="10.5" dy="5.5">g</tspan><tspan dy="-5.5">=10%</tspan></text>
</g>
<g>
<polyline points="73.9,711.1 75.8,709.4 77.7,709 79.6,708.2 81.5,708 83.4,707 85.3,706.8 87.2,706.5 89.1,705.3 91,704.3 92.9,703.7 94.8,704.4 96.7,703.4 98.6,703.4 100.5,702.7 102.4,700.8 104.3,700.8 106.2,698.4 108.1,700.4 110,698.7 111.9,696.6 113.8,694.6 115.7,694.3 117.6,691 119.5,690.2 121.4,689.7 123.3,687.3 125.2,684.5 127.1,682.7 129,675.5 130.9,662.5 132.8,648.4 134.7,640.1 136.6,635 138.5,628.6 140.4,625.5 142.3,618.4 144.2,615.5 146.1,608.5 148,605.5 149.9,599.9 151.8,595.6 153.7,593.1 155.6,590.5 157.5,586.6 159.4,586.3 161.3,582.8 163.2,581.7 165.1,580.1 167,578.5 168.9,575 170.8,575.9 172.7,573.6 174.6,571.3 176.5,569.4 178.4,567.4 180.3,566.3 182.2,566.4 184.1,564.4 186,562.6 187.9,561.8 189.8,562.2 191.7,559.6 193.6,558.3 195.5,558.6 197.4,556.9 199.3,555.5 201.2,553.9 203.1,552.2 205,551.4 206.9,550.9 208.8,550.2 210.7,549.6 212.6,548.8 214.5,547.6 216.4,546.7 218.3,544.9 220.2,543.2 222.1,543.6 224,542.5 225.9,541.9 227.8,541.5 229.7,540 231.6,539.4 233.5,539.5 235.4,539 237.3,537.8 239.2,538.1 241.1,537 243,535.8 244.9,536 246.8,536.8 248.7,534.4 250.6,535.2 252.5,534.9 254.4,534.5 256.3,532.2 258.2,533.9 260.1,531.9 262,531.2 263.9,530.7 265.8,530.8 267.7,529.9 269.6,529.3 271.5,529.9 273.4,527.9 275.3,527.2 277.2,528 279.1,527.5 281,527.3 282.9,525.1 284.8,526.2 286.7,525.3 288.6,525.7 290.5,522.9 292.4,523.5 294.3,522.6 296.2,521.1 298.1,521.3 300,522.1 301.9,520.4 303.8,519.7 305.7,520.4 307.6,520 309.5,519.5 311.4,517.7 313.3,517.7 315.2,518.1 317.1,516.4 319,515.8 320.9,516.6 322.8,516.7 324.7,514.2 326.6,512.8 328.5,513.2 330.4,513.2 332.3,513.4 334.2,513.6 336.1,512.7 338,511.9 339.9,512.2 341.8,511.1 343.7,511.4 345.6,510.6 347.5,512.8 349.4,511.1 351.3,509.6 353.2,509.1 355.1,509.3 357,508.1 358.9,508.5 360.8,508.2 362.7,509.1 364.6,507.9 366.5,507.4 368.4,506.7 370.3,506.6 372.2,507.2" fill="none" stroke="#000000" stroke-width=".8" stroke-linejoin="round"/>
<polyline points="73.9,711.1 75.8,709.4 77.7,709 79.6,708.2 81.5,708 83.4,707 85.3,706.8 87.2,706.5 89.1,705.3 91,704.3 92.9,703.7 94.8,704.4 96.7,703.4 98.6,703.4 100.5,702.7 102.4,700.8 104.3,700.8 106.2,698.4 108.1,700.4 110,698.7 111.9,696.6 113.8,694.6 115.7,694.3 117.6,691 119.5,690.2 121.4,689.7 123.3,687.3 125.2,684.5 155.6,590.5 157.5,586.6 159.4,586.3 161.3,582.8 163.2,581.7 165.1,580.1 167,578.5 168.9,575 170.8,575.9 172.7,573.6 174.6,571.3 176.5,569.4 178.4,567.4 180.3,566.3 182.2,566.4 184.1,564.4 186,562.6 187.9,561.8 189.8,562.2 191.7,559.6 193.6,558.3 195.5,558.6 197.4,556.9 199.3,555.5 201.2,553.9 203.1,552.2 205,551.4 206.9,550.9 208.8,550.2 210.7,549.6 212.6,548.8 214.5,547.6 216.4,546.7 218.3,544.9 220.2,543.2 222.1,543.6 224,542.5 225.9,541.9 227.8,541.5 229.7,540 231.6,539.4 233.5,539.5 235.4,539 237.3,537.8 239.2,538.1 241.1,537 243,535.8 244.9,536 246.8,536.8 248.7,534.4 250.6,535.2 252.5,534.9 254.4,534.5 256.3,532.2 258.2,533.9 260.1,531.9 262,531.2 263.9,530.7 265.8,530.8 267.7,529.9 269.6,529.3 271.5,529.9 273.4,527.9 275.3,527.2 277.2,528 279.1,527.5 281,527.3 282.9,525.1 284.8,526.2 286.7,525.3 288.6,525.7 290.5,522.9 292.4,523.5 294.3,522.6 296.2,521.1 298.1,521.3 300,522.1 301.9,520.4 303.8,519.7 305.7,520.4 307.6,520 309.5,519.5 311.4,517.7 313.3,517.7 315.2,518.1 317.1,516.4 319,515.8 320.9,516.6 322.8,516.7 324.7,514.2 326.6,512.8 328.5,513.2 330.4,513.2 332.3,513.4 334.2,513.6 336.1,512.7 338,511.9 339.9,512.2 341.8,511.1 343.7,511.4 345.6,510.6 347.5,512.8 349.4,511.1 351.3,509.6 353.2,509.1 355.1,509.3 357,508.1 358.9,508.5 360.8,508.2 362.7,509.1 364.6,507.9 366.5,507.4 368.4,506.7 370.3,506.6 372.2,507.2" fill="none" stroke="none" marker-start="url(#sk)" marker-mid="url(#sk)" marker-end="url(#sk)"/>
<polyline points="127.1,682.7 129,675.5 130.9,662.5 132.8,648.4 134.7,640.1 136.6,635 138.5,628.6 140.4,625.5 142.3,618.4 144.2,615.5 146.1,608.5 148,605.5 149.9,599.9 151.8,595.6 153.7,593.1 127.6,680.3 128.9,677.9 129.1,672.9 130.3,670.3 130.3,667.7 130.5,665.1 130.3,659.7 131,656.9 132.4,654 133.1,651.2 133.5,645.6 134.4,642.8 135.4,637.5 137,632.8 137.5,630.7 139.9,627.1 141.2,623.2 141.5,620.8 143.1,617 145.1,613.2 145.6,610.8 146.6,607 149.8,602.7 151,597.7" fill="none" stroke="none" marker-start="url(#lk)" marker-mid="url(#lk)" marker-end="url(#lk)"/>
<polyline points="73.9,705.6 75.8,706.1 77.7,705.3 79.6,703.9 81.5,703.8 83.4,702.1 85.3,701.8 87.2,700 89.1,702.1 91,699.1 92.9,700.4 94.8,698.7 96.7,697.9 98.6,697.9 100.5,697.6 102.4,697.1 104.3,697.1 106.2,695.2 108.1,694.6 110,692.3 111.9,691.8 113.8,689.4 115.7,686.6 117.6,684.6 119.5,682.7 121.4,681.1 123.3,679.1 125.2,675.4 127.1,668.8 129,661.6 130.9,652.5 132.8,640.7 134.7,634.9 136.6,626.3 138.5,623 140.4,619.6 142.3,613.4 144.2,612.5 146.1,605.3 148,605.3 149.9,602.3 151.8,598.3 153.7,593.7 155.6,590.6 157.5,586.7 159.4,585.5 161.3,581.8 163.2,580.4 165.1,579.6 167,576.3 168.9,575.2 170.8,574.1 172.7,571.5 174.6,572 176.5,570.1 178.4,567.4 180.3,567.3 182.2,565.6 184.1,564.6 186,564.1 187.9,562.5 189.8,562.8 191.7,560.6 193.6,560.9 195.5,559.1 197.4,558.9 199.3,556.9 201.2,556 203.1,554.6 205,554.9 206.9,554.3 208.8,554.3 210.7,552.8 212.6,551.1 214.5,549.9 216.4,549.4 218.3,548.3 220.2,548.5 222.1,547.3 224,545.1 225.9,544.4 227.8,545.1 229.7,543.5 231.6,542.3 233.5,542.5 235.4,540.6 237.3,539.9 239.2,539 241.1,537.1 243,538.5 244.9,536.2 246.8,535.9 248.7,535.1 250.6,535.5 252.5,534.2 254.4,533.5 256.3,531.6 258.2,532.1 260.1,530.4 262,531 263.9,530.4 265.8,529.5 267.7,530.4 269.6,528.6 271.5,528 273.4,527 275.3,526.2 277.2,526.4 279.1,525.9 281,523.4 282.9,524.6 284.8,523.6 286.7,523.3 288.6,522.3 290.5,520.4 292.4,519.8 294.3,521.4 296.2,519.6 298.1,517.8 300,518.5 301.9,517.3 303.8,515.6 305.7,514.7 307.6,514.7 309.5,515.5 311.4,514.7 313.3,514 315.2,513.9 317.1,513.6 319,511.1 320.9,511.9 322.8,511.1 324.7,510.3 326.6,510.4 328.5,510.3 330.4,509.7 332.3,508.4 334.2,508.8 336.1,510.3 338,507.6 339.9,506.8 341.8,507.9 343.7,507.8 345.6,507.3 347.5,505.8 349.4,507.1 351.3,505.5 353.2,504.9 355.1,505 357,505.1 358.9,505.4 360.8,505.1 362.7,504.4 364.6,504.8 366.5,504 368.4,504.3 370.3,502.4 372.2,502" fill="none" stroke="#ff0020" stroke-width=".8" stroke-linejoin="round"/>
<polyline points="73.9,705.6 75.8,706.1 77.7,705.3 79.6,703.9 81.5,703.8 83.4,702.1 85.3,701.8 87.2,700 89.1,702.1 91,699.1 92.9,700.4 94.8,698.7 96.7,697.9 98.6,697.9 100.5,697.6 102.4,697.1 104.3,697.1 106.2,695.2 108.1,694.6 110,692.3 111.9,691.8 113.8,689.4 115.7,686.6 117.6,684.6 119.5,682.7 121.4,681.1 123.3,679.1 146.1,605.3 148,605.3 157.5,586.7 159.4,585.5 161.3,581.8 163.2,580.4 165.1,579.6 167,576.3 168.9,575.2 170.8,574.1 172.7,571.5 174.6,572 176.5,570.1 178.4,567.4 180.3,567.3 182.2,565.6 184.1,564.6 186,564.1 187.9,562.5 189.8,562.8 191.7,560.6 193.6,560.9 195.5,559.1 197.4,558.9 199.3,556.9 201.2,556 203.1,554.6 205,554.9 206.9,554.3 208.8,554.3 210.7,552.8 212.6,551.1 214.5,549.9 216.4,549.4 218.3,548.3 220.2,548.5 222.1,547.3 224,545.1 225.9,544.4 227.8,545.1 229.7,543.5 231.6,542.3 233.5,542.5 235.4,540.6 237.3,539.9 239.2,539 241.1,537.1 243,538.5 244.9,536.2 246.8,535.9 248.7,535.1 250.6,535.5 252.5,534.2 254.4,533.5 256.3,531.6 258.2,532.1 260.1,530.4 262,531 263.9,530.4 265.8,529.5 267.7,530.4 269.6,528.6 271.5,528 273.4,527 275.3,526.2 277.2,526.4 279.1,525.9 281,523.4 282.9,524.6 284.8,523.6 286.7,523.3 288.6,522.3 290.5,520.4 292.4,519.8 294.3,521.4 296.2,519.6 298.1,517.8 300,518.5 301.9,517.3 303.8,515.6 305.7,514.7 307.6,514.7 309.5,515.5 311.4,514.7 313.3,514 315.2,513.9 317.1,513.6 319,511.1 320.9,511.9 322.8,511.1 324.7,510.3 326.6,510.4 328.5,510.3 330.4,509.7 332.3,508.4 334.2,508.8 336.1,510.3 338,507.6 339.9,506.8 341.8,507.9 343.7,507.8 345.6,507.3 347.5,505.8 349.4,507.1 351.3,505.5 353.2,504.9 355.1,505 357,505.1 358.9,505.4 360.8,505.1 362.7,504.4 364.6,504.8 366.5,504 368.4,504.3 370.3,502.4 372.2,502" fill="none" stroke="none" marker-start="url(#sr)" marker-mid="url(#sr)" marker-end="url(#sr)"/>
<polyline points="125.2,675.4 127.1,668.8 129,661.6 130.9,652.5 132.8,640.7 134.7,634.9 136.6,626.3 138.5,623 140.4,619.6 142.3,613.4 144.2,612.5 149.9,602.3 151.8,598.3 153.7,593.7 155.6,590.6 124.6,677.3 125.1,673.2 126.3,671 127.7,666.4 128.1,664 129.4,658.6 131,655.5 130.1,649.5 132.3,646.6 133.5,643.6 133.8,637.8 135.3,632 136.3,629.1 138.5,624.7 138.9,621.3 141.1,617.5 141.6,615.5 145.1,610.1 145.5,607.7 149.3,603.8 150.6,600.3 152.8,596 154.3,592.1 156.2,588.6" fill="none" stroke="none" marker-start="url(#lr)" marker-mid="url(#lr)" marker-end="url(#lr)"/>
<polyline points="73.9,697.4 75.8,696.7 77.7,695.3 79.6,696.7 81.5,694.7 83.4,693.1 85.3,694.2 87.2,692.1 89.1,692.3 91,691.1 92.9,690.5 94.8,689.6 96.7,688.1 98.6,687.7 100.5,688.2 102.4,683.9 104.3,684.5 106.2,683.5 108.1,680.9 110,679 111.9,679.6 113.8,675.2 115.7,674.1 117.6,669.6 119.5,665.3 121.4,661 123.3,656.7 125.2,652.8 127.1,647.8 129,642.6 130.9,638 132.8,634.6 134.7,630.2 136.6,625 138.5,621.5 140.4,618.4 142.3,613.9 144.2,610.6 146.1,607 148,604.3 149.9,601.3 151.8,598.2 153.7,594 155.6,592.5 157.5,588.1 159.4,587.9 161.3,583.9 163.2,581.2 165.1,578.4 167,574.8 168.9,575.1 170.8,573.6 172.7,573.4 174.6,569.4 176.5,570.4 178.4,567.5 180.3,566.9 182.2,563.1 184.1,563.9 186,562.4 187.9,562 189.8,560.4 191.7,558.5 193.6,559 195.5,557.9 197.4,556.8 199.3,556.2 201.2,555.3 203.1,553.6 205,551.7 206.9,550.8 208.8,552 210.7,550.7 212.6,549.5 214.5,548.3 216.4,547.9 218.3,547.1 220.2,546.1 222.1,545.1 224,546.5 225.9,544.4 227.8,543 229.7,541.8 231.6,541.5 233.5,541.9 235.4,541.2 237.3,539.8 239.2,539.3 241.1,538.3 243,537 244.9,538.1 246.8,536.7 248.7,537.6 250.6,534.5 252.5,534.2 254.4,534.3 256.3,532.8 258.2,531.3 260.1,530.9 262,531 263.9,530.5 265.8,529.5 267.7,529.7 269.6,529 271.5,527.9 273.4,527 275.3,526.1 277.2,526.1 279.1,525.7 281,524.4 282.9,524.1 284.8,522.8 286.7,521.4 288.6,521 290.5,521.7 292.4,520.8 294.3,520.9 296.2,519.1 298.1,519.1 300,518.7 301.9,517.8 303.8,516 305.7,515.7 307.6,515.3 309.5,513.8 311.4,514.3 313.3,514.2 315.2,512.5 317.1,513.7 319,511.5 320.9,511.1 322.8,510.5 324.7,509.7 326.6,510.1 328.5,509.4 330.4,510.2 332.3,509 334.2,508.6 336.1,507.6 338,506.4 339.9,507 341.8,506.1 343.7,507.1 345.6,506.1 347.5,507 349.4,506 351.3,505.8 353.2,505.1 355.1,504.8 357,504.9 358.9,504.8 360.8,503.4 362.7,504.1 364.6,505.4 366.5,503.2 368.4,502.9 370.3,502.4 372.2,501.6" fill="none" stroke="#ff9a00" stroke-width=".8" stroke-linejoin="round"/>
<polyline points="73.9,697.4 75.8,696.7 77.7,695.3 79.6,696.7 81.5,694.7 83.4,693.1 85.3,694.2 87.2,692.1 89.1,692.3 91,691.1 92.9,690.5 94.8,689.6 96.7,688.1 98.6,687.7 100.5,688.2 102.4,683.9 104.3,684.5 106.2,683.5 108.1,680.9 110,679 111.9,679.6 113.8,675.2 115.7,674.1 146.1,607 155.6,592.5 157.5,588.1 159.4,587.9 161.3,583.9 163.2,581.2 165.1,578.4 167,574.8 168.9,575.1 170.8,573.6 172.7,573.4 174.6,569.4 176.5,570.4 178.4,567.5 180.3,566.9 182.2,563.1 184.1,563.9 186,562.4 187.9,562 189.8,560.4 191.7,558.5 193.6,559 195.5,557.9 197.4,556.8 199.3,556.2 201.2,555.3 203.1,553.6 205,551.7 206.9,550.8 208.8,552 210.7,550.7 212.6,549.5 214.5,548.3 216.4,547.9 218.3,547.1 220.2,546.1 222.1,545.1 224,546.5 225.9,544.4 227.8,543 229.7,541.8 231.6,541.5 233.5,541.9 235.4,541.2 237.3,539.8 239.2,539.3 241.1,538.3 243,537 244.9,538.1 246.8,536.7 248.7,537.6 250.6,534.5 252.5,534.2 254.4,534.3 256.3,532.8 258.2,531.3 260.1,530.9 262,531 263.9,530.5 265.8,529.5 267.7,529.7 269.6,529 271.5,527.9 273.4,527 275.3,526.1 277.2,526.1 279.1,525.7 281,524.4 282.9,524.1 284.8,522.8 286.7,521.4 288.6,521 290.5,521.7 292.4,520.8 294.3,520.9 296.2,519.1 298.1,519.1 300,518.7 301.9,517.8 303.8,516 305.7,515.7 307.6,515.3 309.5,513.8 311.4,514.3 313.3,514.2 315.2,512.5 317.1,513.7 319,511.5 320.9,511.1 322.8,510.5 324.7,509.7 326.6,510.1 328.5,509.4 330.4,510.2 332.3,509 334.2,508.6 336.1,507.6 338,506.4 339.9,507 341.8,506.1 343.7,507.1 345.6,506.1 347.5,507 349.4,506 351.3,505.8 353.2,505.1 355.1,504.8 357,504.9 358.9,504.8 360.8,503.4 362.7,504.1 364.6,505.4 366.5,503.2 368.4,502.9 370.3,502.4 372.2,501.6" fill="none" stroke="none" marker-start="url(#so)" marker-mid="url(#so)" marker-end="url(#so)"/>
<polyline points="117.6,669.6 119.5,665.3 121.4,661 123.3,656.7 125.2,652.8 127.1,647.8 129,642.6 130.9,638 132.8,634.6 134.7,630.2 136.6,625 138.5,621.5 140.4,618.4 142.3,613.9 144.2,610.6 148,604.3 149.9,601.3 151.8,598.2 153.7,594 117.2,671.8 118.6,667.4 120.6,663.1 123.3,658.8 125.5,654.8 125.7,650.3 128.6,645.2 130.3,640.3 132,636.3 134,632.4 135.6,627.6 138.3,623.3 139.8,619.9 141.5,616.1 143.9,612.2 145.6,608.8 147.3,605.6 149.1,602.8 151.7,599.7 153,596.1" fill="none" stroke="none" marker-start="url(#lo)" marker-mid="url(#lo)" marker-end="url(#lo)"/>
<polyline points="73.9,686.4 75.8,685.2 77.7,685 79.6,683.8 81.5,684 83.4,683.5 85.3,681.1 87.2,681.9 89.1,681.7 91,680.6 92.9,679 94.8,679.9 96.7,677.6 98.6,676.4 100.5,675.6 102.4,675.4 104.3,675.2 106.2,674.2 108.1,672.2 110,669.6 111.9,667.9 113.8,664.4 115.7,661 117.6,655.9 119.5,653.4 121.4,649.9 123.3,645.9 125.2,643.5 127.1,639.1 129,634.2 130.9,629.8 132.8,626.2 134.7,621.5 136.6,616.2 138.5,613.6 140.4,609.1 142.3,607.4 144.2,603.8 146.1,600.5 148,599.3 149.9,596.1 151.8,594 153.7,591.7 155.6,590.8 157.5,588.5 159.4,586.5 161.3,584.3 163.2,584.1 165.1,581.1 167,579.4 168.9,579.5 170.8,578.3 172.7,576.3 174.6,573.4 176.5,573.1 178.4,572.8 180.3,571.2 182.2,571.2 184.1,567.9 186,568.3 187.9,566.2 189.8,566.6 191.7,564.5 193.6,564.2 195.5,561.9 197.4,560.3 199.3,559.5 201.2,558.8 203.1,557.5 205,558.2 206.9,557.3 208.8,555.5 210.7,553.5 212.6,553.2 214.5,551.8 216.4,552.4 218.3,550.6 220.2,549.8 222.1,548.2 224,546 225.9,546 227.8,544.8 229.7,545 231.6,543.9 233.5,542.4 235.4,541.8 237.3,542.4 239.2,539.6 241.1,538.8 243,538.5 244.9,537.3 246.8,536.7 248.7,536.6 250.6,536.6 252.5,533.2 254.4,533.7 256.3,533 258.2,532.1 260.1,531.2 262,530.3 263.9,530.6 265.8,528.7 267.7,528.3 269.6,527.6 271.5,527 273.4,526.1 275.3,526.2 277.2,524.8 279.1,524.2 281,523.4 282.9,522 284.8,521.4 286.7,520.6 288.6,520.9 290.5,519.5 292.4,518.6 294.3,518.9 296.2,518.5 298.1,516.1 300,518.1 301.9,516.2 303.8,515.5 305.7,515.8 307.6,514.4 309.5,513.3 311.4,514.9 313.3,511.9 315.2,512.1 317.1,512.3 319,510.3 320.9,510.5 322.8,510.4 324.7,511.5 326.6,508.6 328.5,508.8 330.4,508.9 332.3,508.1 334.2,506.8 336.1,507.6 338,507 339.9,507 341.8,507.1 343.7,506.7 345.6,505.9 347.5,505.6 349.4,504.2 351.3,504.6 353.2,504.6 355.1,503.9 357,504 358.9,503 360.8,504.6 362.7,504.8 364.6,502.7 366.5,503.1 368.4,502.4 370.3,503.4 372.2,502.5" fill="none" stroke="#ff40ff" stroke-width=".8" stroke-linejoin="round"/>
<polyline points="73.9,686.4 75.8,685.2 77.7,685 79.6,683.8 81.5,684 83.4,683.5 85.3,681.1 87.2,681.9 89.1,681.7 91,680.6 92.9,679 94.8,679.9 96.7,677.6 98.6,676.4 100.5,675.6 102.4,675.4 104.3,675.2 106.2,674.2 108.1,672.2 110,669.6 111.9,667.9 123.3,645.9 125.2,643.5 142.3,607.4 144.2,603.8 146.1,600.5 148,599.3 149.9,596.1 151.8,594 153.7,591.7 155.6,590.8 157.5,588.5 159.4,586.5 161.3,584.3 163.2,584.1 165.1,581.1 167,579.4 168.9,579.5 170.8,578.3 172.7,576.3 174.6,573.4 176.5,573.1 178.4,572.8 180.3,571.2 182.2,571.2 184.1,567.9 186,568.3 187.9,566.2 189.8,566.6 191.7,564.5 193.6,564.2 195.5,561.9 197.4,560.3 199.3,559.5 201.2,558.8 203.1,557.5 205,558.2 206.9,557.3 208.8,555.5 210.7,553.5 212.6,553.2 214.5,551.8 216.4,552.4 218.3,550.6 220.2,549.8 222.1,548.2 224,546 225.9,546 227.8,544.8 229.7,545 231.6,543.9 233.5,542.4 235.4,541.8 237.3,542.4 239.2,539.6 241.1,538.8 243,538.5 244.9,537.3 246.8,536.7 248.7,536.6 250.6,536.6 252.5,533.2 254.4,533.7 256.3,533 258.2,532.1 260.1,531.2 262,530.3 263.9,530.6 265.8,528.7 267.7,528.3 269.6,527.6 271.5,527 273.4,526.1 275.3,526.2 277.2,524.8 279.1,524.2 281,523.4 282.9,522 284.8,521.4 286.7,520.6 288.6,520.9 290.5,519.5 292.4,518.6 294.3,518.9 296.2,518.5 298.1,516.1 300,518.1 301.9,516.2 303.8,515.5 305.7,515.8 307.6,514.4 309.5,513.3 311.4,514.9 313.3,511.9 315.2,512.1 317.1,512.3 319,510.3 320.9,510.5 322.8,510.4 324.7,511.5 326.6,508.6 328.5,508.8 330.4,508.9 332.3,508.1 334.2,506.8 336.1,507.6 338,507 339.9,507 341.8,507.1 343.7,506.7 345.6,505.9 347.5,505.6 349.4,504.2 351.3,504.6 353.2,504.6 355.1,503.9 357,504 358.9,503 360.8,504.6 362.7,504.8 364.6,502.7 366.5,503.1 368.4,502.4 370.3,503.4 372.2,502.5" fill="none" stroke="none" marker-start="url(#sm)" marker-mid="url(#sm)" marker-end="url(#sm)"/>
<polyline points="113.8,664.4 115.7,661 117.6,655.9 119.5,653.4 121.4,649.9 127.1,639.1 129,634.2 130.9,629.8 132.8,626.2 134.7,621.5 136.6,616.2 138.5,613.6 140.4,609.1 112.9,666.2 114.6,662.7 116.7,658.4 119.9,651.6 122.7,647.9 125.8,641.3 128.3,636.6 130,632 132.4,628 133.7,623.9 136.2,618.8 139,611.3" fill="none" stroke="none" marker-start="url(#lm)" marker-mid="url(#lm)" marker-end="url(#lm)"/>
<polyline points="73.9,682.4 75.8,680.7 77.7,679.8 79.6,678.6 81.5,678.1 83.4,674.7 85.3,675.3 87.2,672.7 89.1,673.5 91,669.8 92.9,669.3 94.8,667.4 96.7,668.6 98.6,665.1 100.5,664.7 102.4,662.8 104.3,660.3 106.2,659.6 108.1,658.3 110,655.5 111.9,654.2 113.8,651 115.7,649 117.6,646.3 119.5,644.3 121.4,642.9 123.3,638.9 125.2,635.8 127.1,631.9 129,628.3 130.9,626.4 132.8,621 134.7,617.6 136.6,614.9 138.5,611.5 140.4,610.3 142.3,604.3 144.2,603.8 146.1,601.7 148,598.1 149.9,596.3 151.8,595 153.7,593.9 155.6,590.1 157.5,587.7 159.4,587.8 161.3,586.4 163.2,583.2 165.1,580 167,581 168.9,578.1 170.8,577.5 172.7,575.1 174.6,573.5 176.5,572.1 178.4,572.4 180.3,571.2 182.2,567.4 184.1,567.2 186,568.2 187.9,565.6 189.8,563.9 191.7,564 193.6,563 195.5,562.1 197.4,560.9 199.3,560.1 201.2,559.1 203.1,558.8 205,557 206.9,556.5 208.8,555.8 210.7,556 212.6,554.5 214.5,553.3 216.4,552.9 218.3,552 220.2,551.7 222.1,550.5 224,550.7 225.9,549.6 227.8,547.8 229.7,546.7 231.6,546.9 233.5,545.9 235.4,544.7 237.3,542.9 239.2,541.9 241.1,542.8 243,542.4 244.9,541.7 246.8,539.4 248.7,540.5 250.6,538.6 252.5,538.6 254.4,537.9 256.3,536.3 258.2,535.8 260.1,534 262,534.2 263.9,532.8 265.8,533.9 267.7,532.9 269.6,532.9 271.5,531.9 273.4,530.5 275.3,530.6 277.2,529.4 279.1,529.5 281,528.7 282.9,527.1 284.8,527.2 286.7,526.6 288.6,525.7 290.5,526 292.4,526 294.3,523.8 296.2,523.2 298.1,521.1 300,522.1 301.9,521.3 303.8,519.4 305.7,520.7 307.6,520.3 309.5,518.7 311.4,518.5 313.3,517.5 315.2,518.2 317.1,516 319,516.4 320.9,517.6 322.8,515.7 324.7,515.6 326.6,514.7 328.5,513.5 330.4,513.9 332.3,513.8 334.2,512.4 336.1,513 338,513.3 339.9,512.8 341.8,510.5 343.7,510.6 345.6,509.8 347.5,511.5 349.4,510.8 351.3,510.6 353.2,509.1 355.1,508.6 357,509.2 358.9,509 360.8,508 362.7,508.5 364.6,508.6 366.5,508.1 368.4,506.9 370.3,505.9 372.2,507" fill="none" stroke="#00ff00" stroke-width=".8" stroke-linejoin="round"/>
<polyline points="73.9,682.4 75.8,680.7 77.7,679.8 79.6,678.6 81.5,678.1 83.4,674.7 85.3,675.3 87.2,672.7 89.1,673.5 91,669.8 92.9,669.3 94.8,667.4 96.7,668.6 98.6,665.1 100.5,664.7 102.4,662.8 104.3,660.3 106.2,659.6 108.1,658.3 110,655.5 111.9,654.2 113.8,651 115.7,649 117.6,646.3 119.5,644.3 121.4,642.9 123.3,638.9 125.2,635.8 136.6,614.9 138.5,611.5 140.4,610.3 142.3,604.3 144.2,603.8 146.1,601.7 148,598.1 149.9,596.3 151.8,595 153.7,593.9 155.6,590.1 157.5,587.7 159.4,587.8 161.3,586.4 163.2,583.2 165.1,580 167,581 168.9,578.1 170.8,577.5 172.7,575.1 174.6,573.5 176.5,572.1 178.4,572.4 180.3,571.2 182.2,567.4 184.1,567.2 186,568.2 187.9,565.6 189.8,563.9 191.7,564 193.6,563 195.5,562.1 197.4,560.9 199.3,560.1 201.2,559.1 203.1,558.8 205,557 206.9,556.5 208.8,555.8 210.7,556 212.6,554.5 214.5,553.3 216.4,552.9 218.3,552 220.2,551.7 222.1,550.5 224,550.7 225.9,549.6 227.8,547.8 229.7,546.7 231.6,546.9 233.5,545.9 235.4,544.7 237.3,542.9 239.2,541.9 241.1,542.8 243,542.4 244.9,541.7 246.8,539.4 248.7,540.5 250.6,538.6 252.5,538.6 254.4,537.9 256.3,536.3 258.2,535.8 260.1,534 262,534.2 263.9,532.8 265.8,533.9 267.7,532.9 269.6,532.9 271.5,531.9 273.4,530.5 275.3,530.6 277.2,529.4 279.1,529.5 281,528.7 282.9,527.1 284.8,527.2 286.7,526.6 288.6,525.7 290.5,526 292.4,526 294.3,523.8 296.2,523.2 298.1,521.1 300,522.1 301.9,521.3 303.8,519.4 305.7,520.7 307.6,520.3 309.5,518.7 311.4,518.5 313.3,517.5 315.2,518.2 317.1,516 319,516.4 320.9,517.6 322.8,515.7 324.7,515.6 326.6,514.7 328.5,513.5 330.4,513.9 332.3,513.8 334.2,512.4 336.1,513 338,513.3 339.9,512.8 341.8,510.5 343.7,510.6 345.6,509.8 347.5,511.5 349.4,510.8 351.3,510.6 353.2,509.1 355.1,508.6 357,509.2 358.9,509 360.8,508 362.7,508.5 364.6,508.6 366.5,508.1 368.4,506.9 370.3,505.9 372.2,507" fill="none" stroke="none" marker-start="url(#sg1)" marker-mid="url(#sg1)" marker-end="url(#sg1)"/>
<polyline points="127.1,631.9 129,628.3 130.9,626.4 132.8,621 134.7,617.6 126.2,633.9 127.9,630.1 131.6,623.7 133.4,619.3 136,616.3" fill="none" stroke="none" marker-start="url(#lg1)" marker-mid="url(#lg1)" marker-end="url(#lg1)"/>
<polyline points="73.9,677.9 75.8,676.9 77.7,675 79.6,674.1 81.5,673.5 83.4,671.5 85.3,670.1 87.2,669.6 89.1,669.5 91,667.4 92.9,667.1 94.8,664.6 96.7,663.1 98.6,661 100.5,660.2 102.4,660.3 104.3,657.9 106.2,656.4 108.1,654.3 110,651.6 111.9,649.3 113.8,647.3 115.7,645.5 117.6,642.9 119.5,640.4 121.4,637.6 123.3,634.1 125.2,631.5 127.1,627.7 129,625.6 130.9,619.8 132.8,617.6 134.7,616.1 136.6,610.7 138.5,607 140.4,604.9 142.3,603 144.2,599.3 146.1,597.3 148,594.4 149.9,591.5 151.8,591.6 153.7,586.6 155.6,583.7 157.5,581.4 159.4,579.9 161.3,577.9 163.2,576.2 165.1,573.9 167,571 168.9,570.9 170.8,568.8 172.7,567.5 174.6,565.3 176.5,564.8 178.4,563.5 180.3,562.9 182.2,560.7 184.1,560.8 186,559.9 187.9,558 189.8,557.4 191.7,556.3 193.6,556.7 195.5,553.2 197.4,553.9 199.3,552.1 201.2,552.1 203.1,552.2 205,550.2 206.9,550 208.8,548.4 210.7,549.7 212.6,548.1 214.5,547.5 216.4,544.8 218.3,544.2 220.2,545.1 222.1,543.4 224,542.6 225.9,542.3 227.8,540.4 229.7,541.2 231.6,540 233.5,539.6 235.4,538.1 237.3,538.3 239.2,536.7 241.1,537.3 243,536.8 244.9,536 246.8,535.1 248.7,534.6 250.6,531.4 252.5,533.5 254.4,532.1 256.3,531.7 258.2,530.9 260.1,529.5 262,529.5 263.9,529.9 265.8,529.9 267.7,527.8 269.6,527 271.5,528.3 273.4,526 275.3,527.6 277.2,525.6 279.1,524.3 281,525.2 282.9,525.2 284.8,522.3 286.7,524 288.6,522.1 290.5,522.9 292.4,520.9 294.3,519.5 296.2,520.5 298.1,520.3 300,520.7 301.9,519.9 303.8,518.6 305.7,517.4 307.6,516.7 309.5,516.3 311.4,515.5 313.3,515.4 315.2,513.2 317.1,514.8 319,514.2 320.9,515.8 322.8,514 324.7,512.7 326.6,513.1 328.5,511.4 330.4,511.5 332.3,510.2 334.2,512.3 336.1,511.4 338,509.7 339.9,510.3 341.8,510.7 343.7,510.1 345.6,509.7 347.5,508.5 349.4,508.4 351.3,508.7 353.2,509 355.1,507.5 357,507 358.9,508.5 360.8,506.7 362.7,508 364.6,507.2 366.5,507.4 368.4,507.9 370.3,506.9 372.2,506.8" fill="none" stroke="#00e000" stroke-width=".8" stroke-linejoin="round"/>
<polyline points="73.9,677.9 75.8,676.9 77.7,675 79.6,674.1 81.5,673.5 83.4,671.5 85.3,670.1 87.2,669.6 89.1,669.5 91,667.4 92.9,667.1 94.8,664.6 96.7,663.1 98.6,661 100.5,660.2 102.4,660.3 104.3,657.9 106.2,656.4 108.1,654.3 110,651.6 111.9,649.3 113.8,647.3 115.7,645.5 117.6,642.9 119.5,640.4 121.4,637.6 123.3,634.1 125.2,631.5 136.6,610.7 138.5,607 140.4,604.9 142.3,603 144.2,599.3 146.1,597.3 148,594.4 149.9,591.5 151.8,591.6 153.7,586.6 155.6,583.7 157.5,581.4 159.4,579.9 161.3,577.9 163.2,576.2 165.1,573.9 167,571 168.9,570.9 170.8,568.8 172.7,567.5 174.6,565.3 176.5,564.8 178.4,563.5 180.3,562.9 182.2,560.7 184.1,560.8 186,559.9 187.9,558 189.8,557.4 191.7,556.3 193.6,556.7 195.5,553.2 197.4,553.9 199.3,552.1 201.2,552.1 203.1,552.2 205,550.2 206.9,550 208.8,548.4 210.7,549.7 212.6,548.1 214.5,547.5 216.4,544.8 218.3,544.2 220.2,545.1 222.1,543.4 224,542.6 225.9,542.3 227.8,540.4 229.7,541.2 231.6,540 233.5,539.6 235.4,538.1 237.3,538.3 239.2,536.7 241.1,537.3 243,536.8 244.9,536 246.8,535.1 248.7,534.6 250.6,531.4 252.5,533.5 254.4,532.1 256.3,531.7 258.2,530.9 260.1,529.5 262,529.5 263.9,529.9 265.8,529.9 267.7,527.8 269.6,527 271.5,528.3 273.4,526 275.3,527.6 277.2,525.6 279.1,524.3 281,525.2 282.9,525.2 284.8,522.3 286.7,524 288.6,522.1 290.5,522.9 292.4,520.9 294.3,519.5 296.2,520.5 298.1,520.3 300,520.7 301.9,519.9 303.8,518.6 305.7,517.4 307.6,516.7 309.5,516.3 311.4,515.5 313.3,515.4 315.2,513.2 317.1,514.8 319,514.2 320.9,515.8 322.8,514 324.7,512.7 326.6,513.1 328.5,511.4 330.4,511.5 332.3,510.2 334.2,512.3 336.1,511.4 338,509.7 339.9,510.3 341.8,510.7 343.7,510.1 345.6,509.7 347.5,508.5 349.4,508.4 351.3,508.7 353.2,509 355.1,507.5 357,507 358.9,508.5 360.8,506.7 362.7,508 364.6,507.2 366.5,507.4 368.4,507.9 370.3,506.9 372.2,506.8" fill="none" stroke="none" marker-start="url(#sg2)" marker-mid="url(#sg2)" marker-end="url(#sg2)"/>
<polyline points="127.1,627.7 129,625.6 130.9,619.8 132.8,617.6 134.7,616.1 125.7,629.6 129.6,622.7 136,613.4" fill="none" stroke="none" marker-start="url(#lg2)" marker-mid="url(#lg2)" marker-end="url(#lg2)"/>
<polyline points="73.9,664.3 75.8,663.2 77.7,663 79.6,660.5 81.5,659.4 83.4,659.1 85.3,657.3 87.2,656.2 89.1,654.5 91,655 92.9,652.3 94.8,652.5 96.7,649.9 98.6,650.7 100.5,647.9 102.4,648.1 104.3,645 106.2,644.5 108.1,644.3 110,641.2 111.9,639.9 113.8,636.9 115.7,632.4 117.6,630.7 119.5,627.8 121.4,624.2 123.3,623.1 125.2,619.7 127.1,616.7 129,614.5 130.9,611 132.8,610.5 134.7,605.2 136.6,604.6 138.5,602.6 140.4,598.4 142.3,596.8 144.2,596.9 146.1,594.6 148,593.7 149.9,592.7 151.8,590.1 153.7,588 155.6,585.2 157.5,585.9 159.4,583.6 161.3,583 163.2,581.5 165.1,578.9 167,579.8 168.9,577.9 170.8,576.4 172.7,573.5 174.6,572.8 176.5,571.3 178.4,570.2 180.3,568.4 182.2,568.3 184.1,566.9 186,565.9 187.9,564.1 189.8,564.3 191.7,562.4 193.6,559.1 195.5,559.6 197.4,559 199.3,558.7 201.2,556.8 203.1,555.8 205,554.5 206.9,554.5 208.8,552.8 210.7,551.7 212.6,550.7 214.5,550.7 216.4,549 218.3,547.3 220.2,548.1 222.1,546.2 224,546.2 225.9,545.3 227.8,545.1 229.7,544.1 231.6,542.1 233.5,541.6 235.4,539.9 237.3,541.3 239.2,539.6 241.1,539.5 243,537.5 244.9,535.4 246.8,537.3 248.7,535.5 250.6,534.8 252.5,534 254.4,533.7 256.3,532.9 258.2,530.5 260.1,531.8 262,529.9 263.9,529.3 265.8,530.2 267.7,528.9 269.6,527.3 271.5,525.5 273.4,526.3 275.3,525.9 277.2,524.8 279.1,523.3 281,522.9 282.9,521.9 284.8,522.4 286.7,522.1 288.6,521.6 290.5,519.7 292.4,519.8 294.3,519.3 296.2,517.9 298.1,517.6 300,518.7 301.9,516.6 303.8,516.5 305.7,514.9 307.6,514.7 309.5,512.8 311.4,513.6 313.3,513.9 315.2,514.1 317.1,512.9 319,512 320.9,511.1 322.8,510.2 324.7,510 326.6,510.2 328.5,508.7 330.4,509.6 332.3,507.8 334.2,506.9 336.1,507.1 338,506.2 339.9,506.1 341.8,507.7 343.7,506.3 345.6,506.3 347.5,506.7 349.4,506.5 351.3,504.9 353.2,506 355.1,505 357,504.5 358.9,504.5 360.8,502.9 362.7,503.2 364.6,503.4 366.5,503.8 368.4,502.8 370.3,502.8 372.2,503.5" fill="none" stroke="#dda0cc" stroke-width=".8" stroke-linejoin="round"/>
<polyline points="73.9,664.3 75.8,663.2 77.7,663 79.6,660.5 81.5,659.4 83.4,659.1 85.3,657.3 87.2,656.2 89.1,654.5 91,655 92.9,652.3 94.8,652.5 96.7,649.9 98.6,650.7 100.5,647.9 102.4,648.1 104.3,645 106.2,644.5 108.1,644.3 110,641.2 111.9,639.9 113.8,636.9 119.5,627.8 121.4,624.2 123.3,623.1 125.2,619.7 127.1,616.7 129,614.5 130.9,611 132.8,610.5 134.7,605.2 136.6,604.6 138.5,602.6 140.4,598.4 142.3,596.8 144.2,596.9 146.1,594.6 148,593.7 149.9,592.7 151.8,590.1 153.7,588 155.6,585.2 157.5,585.9 159.4,583.6 161.3,583 163.2,581.5 165.1,578.9 167,579.8 168.9,577.9 170.8,576.4 172.7,573.5 174.6,572.8 176.5,571.3 178.4,570.2 180.3,568.4 182.2,568.3 184.1,566.9 186,565.9 187.9,564.1 189.8,564.3 191.7,562.4 193.6,559.1 195.5,559.6 197.4,559 199.3,558.7 201.2,556.8 203.1,555.8 205,554.5 206.9,554.5 208.8,552.8 210.7,551.7 212.6,550.7 214.5,550.7 216.4,549 218.3,547.3 220.2,548.1 222.1,546.2 224,546.2 225.9,545.3 227.8,545.1 229.7,544.1 231.6,542.1 233.5,541.6 235.4,539.9 237.3,541.3 239.2,539.6 241.1,539.5 243,537.5 244.9,535.4 246.8,537.3 248.7,535.5 250.6,534.8 252.5,534 254.4,533.7 256.3,532.9 258.2,530.5 260.1,531.8 262,529.9 263.9,529.3 265.8,530.2 267.7,528.9 269.6,527.3 271.5,525.5 273.4,526.3 275.3,525.9 277.2,524.8 279.1,523.3 281,522.9 282.9,521.9 284.8,522.4 286.7,522.1 288.6,521.6 290.5,519.7 292.4,519.8 294.3,519.3 296.2,517.9 298.1,517.6 300,518.7 301.9,516.6 303.8,516.5 305.7,514.9 307.6,514.7 309.5,512.8 311.4,513.6 313.3,513.9 315.2,514.1 317.1,512.9 319,512 320.9,511.1 322.8,510.2 324.7,510 326.6,510.2 328.5,508.7 330.4,509.6 332.3,507.8 334.2,506.9 336.1,507.1 338,506.2 339.9,506.1 341.8,507.7 343.7,506.3 345.6,506.3 347.5,506.7 349.4,506.5 351.3,504.9 353.2,506 355.1,505 357,504.5 358.9,504.5 360.8,502.9 362.7,503.2 364.6,503.4 366.5,503.8 368.4,502.8 370.3,502.8 372.2,503.5" fill="none" stroke="none" marker-start="url(#sp)" marker-mid="url(#sp)" marker-end="url(#sp)"/>
<polyline points="115.7,632.4 117.6,630.7 115.5,634.7 118.9,629.3" fill="none" stroke="none" marker-start="url(#lp)" marker-mid="url(#lp)" marker-end="url(#lp)"/>
<polyline points="73.9,635 75.8,632.9 77.7,632.1 79.6,631.7 81.5,630.4 83.4,629.4 85.3,630.1 87.2,627.8 89.1,626.3 91,626.5 92.9,626.6 94.8,624.3 96.7,624.2 98.6,622 100.5,621 102.4,619.8 104.3,619.2 106.2,619.6 108.1,616.3 110,617.2 111.9,614.1 113.8,613.4 115.7,613 117.6,611.4 119.5,609.6 121.4,606.3 123.3,605.9 125.2,603.1 127.1,604.3 129,600.9 130.9,599.9 132.8,597.7 134.7,597 136.6,595.2 138.5,595.7 140.4,593.6 142.3,593 144.2,590.8 146.1,589.8 148,589.9 149.9,587 151.8,585 153.7,585.3 155.6,582.5 157.5,581.3 159.4,580.7 161.3,577.9 163.2,577.8 165.1,575.3 167,575.7 168.9,574.3 170.8,571.8 172.7,570.8 174.6,569.1 176.5,568.8 178.4,568.4 180.3,565.5 182.2,566.3 184.1,563.7 186,563.1 187.9,561.4 189.8,563.4 191.7,561 193.6,560.2 195.5,558.6 197.4,559 199.3,555.7 201.2,556.4 203.1,557.1 205,554.2 206.9,553.6 208.8,553.2 210.7,551.2 212.6,551 214.5,550.8 216.4,549.4 218.3,548.8 220.2,547.4 222.1,547.1 224,546.2 225.9,546.4 227.8,545.1 229.7,543.7 231.6,541.3 233.5,542.9 235.4,542.3 237.3,540.3 239.2,538.8 241.1,538.7 243,539.6 244.9,537.4 246.8,537.2 248.7,537 250.6,537.1 252.5,535.5 254.4,534.8 256.3,533.8 258.2,534.8 260.1,533.7 262,532.1 263.9,530.5 265.8,530.3 267.7,530.6 269.6,529 271.5,529.5 273.4,528.4 275.3,527.7 277.2,527.3 279.1,526.5 281,524.8 282.9,524.5 284.8,525.8 286.7,522.5 288.6,522.4 290.5,522.9 292.4,521.3 294.3,520.2 296.2,519.2 298.1,519.9 300,519.7 301.9,519.4 303.8,517.8 305.7,518 307.6,515.8 309.5,516.2 311.4,515 313.3,515.1 315.2,515 317.1,514.7 319,512.7 320.9,513.9 322.8,512.2 324.7,511.3 326.6,511.6 328.5,510.3 330.4,511 332.3,510.9 334.2,510.3 336.1,510.5 338,509.6 339.9,509.6 341.8,508.2 343.7,509 345.6,508 347.5,508 349.4,508 351.3,507.9 353.2,506.1 355.1,505.9 357,506.5 358.9,506.7 360.8,506.3 362.7,506.4 364.6,506.4 366.5,505.5 368.4,504.8 370.3,503.8 372.2,503.5" fill="none" stroke="#2040ff" stroke-width=".8" stroke-linejoin="round"/>
<polyline points="73.9,635 75.8,632.9 77.7,632.1 79.6,631.7 81.5,630.4 83.4,629.4 85.3,630.1 87.2,627.8 89.1,626.3 91,626.5 92.9,626.6 94.8,624.3 96.7,624.2 98.6,622 100.5,621 102.4,619.8 104.3,619.2 106.2,619.6 108.1,616.3 110,617.2 111.9,614.1 113.8,613.4 115.7,613 117.6,611.4 119.5,609.6 121.4,606.3 123.3,605.9 125.2,603.1 127.1,604.3 129,600.9 130.9,599.9 132.8,597.7 134.7,597 136.6,595.2 138.5,595.7 140.4,593.6 142.3,593 144.2,590.8 146.1,589.8 148,589.9 149.9,587 151.8,585 153.7,585.3 155.6,582.5 157.5,581.3 159.4,580.7 161.3,577.9 163.2,577.8 165.1,575.3 167,575.7 168.9,574.3 170.8,571.8 172.7,570.8 174.6,569.1 176.5,568.8 178.4,568.4 180.3,565.5 182.2,566.3 184.1,563.7 186,563.1 187.9,561.4 189.8,563.4 191.7,561 193.6,560.2 195.5,558.6 197.4,559 199.3,555.7 201.2,556.4 203.1,557.1 205,554.2 206.9,553.6 208.8,553.2 210.7,551.2 212.6,551 214.5,550.8 216.4,549.4 218.3,548.8 220.2,547.4 222.1,547.1 224,546.2 225.9,546.4 227.8,545.1 229.7,543.7 231.6,541.3 233.5,542.9 235.4,542.3 237.3,540.3 239.2,538.8 241.1,538.7 243,539.6 244.9,537.4 246.8,537.2 248.7,537 250.6,537.1 252.5,535.5 254.4,534.8 256.3,533.8 258.2,534.8 260.1,533.7 262,532.1 263.9,530.5 265.8,530.3 267.7,530.6 269.6,529 271.5,529.5 273.4,528.4 275.3,527.7 277.2,527.3 279.1,526.5 281,524.8 282.9,524.5 284.8,525.8 286.7,522.5 288.6,522.4 290.5,522.9 292.4,521.3 294.3,520.2 296.2,519.2 298.1,519.9 300,519.7 301.9,519.4 303.8,517.8 305.7,518 307.6,515.8 309.5,516.2 311.4,515 313.3,515.1 315.2,515 317.1,514.7 319,512.7 320.9,513.9 322.8,512.2 324.7,511.3 326.6,511.6 328.5,510.3 330.4,511 332.3,510.9 334.2,510.3 336.1,510.5 338,509.6 339.9,509.6 341.8,508.2 343.7,509 345.6,508 347.5,508 349.4,508 351.3,507.9 353.2,506.1 355.1,505.9 357,506.5 358.9,506.7 360.8,506.3 362.7,506.4 364.6,506.4 366.5,505.5 368.4,504.8 370.3,503.8 372.2,503.5" fill="none" stroke="none" marker-start="url(#sb)" marker-mid="url(#sb)" marker-end="url(#sb)"/>
<rect class="ax" x="52.5" y="492.3" width="336.3" height="235.1"/>
<path class="ax" d="M57.3 727.4v-3M57.3 492.3v3M66.9 727.4v-3M66.9 492.3v3M76.5 727.4v-6.2M76.5 492.3v6.2M86.1 727.4v-3M86.1 492.3v3M95.7 727.4v-3M95.7 492.3v3M105.3 727.4v-3M105.3 492.3v3M114.9 727.4v-3M114.9 492.3v3M124.5 727.4v-6.2M124.5 492.3v6.2M134 727.4v-3M134 492.3v3M143.6 727.4v-3M143.6 492.3v3M153.2 727.4v-3M153.2 492.3v3M162.8 727.4v-3M162.8 492.3v3M172.4 727.4v-6.2M172.4 492.3v6.2M182 727.4v-3M182 492.3v3M191.6 727.4v-3M191.6 492.3v3M201.2 727.4v-3M201.2 492.3v3M210.8 727.4v-3M210.8 492.3v3M220.3 727.4v-6.2M220.3 492.3v6.2M229.9 727.4v-3M229.9 492.3v3M239.5 727.4v-3M239.5 492.3v3M249.1 727.4v-3M249.1 492.3v3M258.7 727.4v-3M258.7 492.3v3M268.3 727.4v-6.2M268.3 492.3v6.2M277.9 727.4v-3M277.9 492.3v3M287.5 727.4v-3M287.5 492.3v3M297.1 727.4v-3M297.1 492.3v3M306.7 727.4v-3M306.7 492.3v3M316.2 727.4v-6.2M316.2 492.3v6.2M325.8 727.4v-3M325.8 492.3v3M335.4 727.4v-3M335.4 492.3v3M345 727.4v-3M345 492.3v3M354.6 727.4v-3M354.6 492.3v3M364.2 727.4v-6.2M364.2 492.3v6.2M373.8 727.4v-3M373.8 492.3v3M383.4 727.4v-3M383.4 492.3v3M52.5 719.6h3M388.8 719.6h-3M52.5 711.7h3M388.8 711.7h-3M52.5 703.9h3M388.8 703.9h-3M52.5 696.1h3M388.8 696.1h-3M52.5 688.2h6.2M388.8 688.2h-6.2M52.5 680.4h3M388.8 680.4h-3M52.5 672.5h3M388.8 672.5h-3M52.5 664.7h3M388.8 664.7h-3M52.5 656.9h3M388.8 656.9h-3M52.5 649h6.2M388.8 649h-6.2M52.5 641.2h3M388.8 641.2h-3M52.5 633.4h3M388.8 633.4h-3M52.5 625.5h3M388.8 625.5h-3M52.5 617.7h3M388.8 617.7h-3M52.5 609.9h6.2M388.8 609.9h-6.2M52.5 602h3M388.8 602h-3M52.5 594.2h3M388.8 594.2h-3M52.5 586.3h3M388.8 586.3h-3M52.5 578.5h3M388.8 578.5h-3M52.5 570.7h6.2M388.8 570.7h-6.2M52.5 562.8h3M388.8 562.8h-3M52.5 555h3M388.8 555h-3M52.5 547.2h3M388.8 547.2h-3M52.5 539.3h3M388.8 539.3h-3M52.5 531.5h6.2M388.8 531.5h-6.2M52.5 523.6h3M388.8 523.6h-3M52.5 515.8h3M388.8 515.8h-3M52.5 508h3M388.8 508h-3M52.5 500.1h3M388.8 500.1h-3"/>
<text class="tk" x="49.9" y="733.4" text-anchor="end">0<tspan dx="-.7">.</tspan><tspan dx="-.7">9</tspan></text>
<text class="tk" x="49.9" y="694.2" text-anchor="end">1</text>
<text class="tk" x="49.9" y="655" text-anchor="end">1<tspan dx="-.7">.</tspan><tspan dx="-.7">1</tspan></text>
<text class="tk" x="49.9" y="615.9" text-anchor="end">1<tspan dx="-.7">.</tspan><tspan dx="-.7">2</tspan></text>
<text class="tk" x="49.9" y="576.7" text-anchor="end">1<tspan dx="-.7">.</tspan><tspan dx="-.7">3</tspan></text>
<text class="tk" x="49.9" y="537.5" text-anchor="end">1<tspan dx="-.7">.</tspan><tspan dx="-.7">4</tspan></text>
<text class="tk" transform="translate(20.4 610.4) rotate(-90)" text-anchor="middle">ρ [g/cm<tspan font-size="11.5" dy="-11.3">3</tspan><tspan dy="11.3">]</tspan></text>
<text class="tt" x="70.3" y="532.6"><tspan font-weight="bold" font-style="italic">(c)</tspan><tspan dx="4.6">T=160 K</tspan></text>
<rect x="280.8" y="543.2" width="89.2" height="172.3" fill="#fff" stroke="#6a6a72" stroke-width=".95"/>
<path d="M284.5 554.9h13.2" stroke="#000000" stroke-width="1.2"/>
<text class="lg" x="304.8" y="556.8">χ<tspan font-size="10.5" dy="5.5">g</tspan><tspan dy="-5.5">=0%</tspan></text>
<path d="M284.5 576h13.2" stroke="#ff0020" stroke-width="1.2"/>
<text class="lg" x="304.8" y="577.9">χ<tspan font-size="10.5" dy="5.5">g</tspan><tspan dy="-5.5">=0.14%</tspan></text>
<path d="M284.5 597.1h13.2" stroke="#ff9a00" stroke-width="1.2"/>
<text class="lg" x="304.8" y="599">χ<tspan font-size="10.5" dy="5.5">g</tspan><tspan dy="-5.5">=0.95%</tspan></text>
<path d="M284.5 618.2h13.2" stroke="#ff40ff" stroke-width="1.2"/>
<text class="lg" x="304.8" y="620.1">χ<tspan font-size="10.5" dy="5.5">g</tspan><tspan dy="-5.5">=2.02%</tspan></text>
<path d="M284.5 639.3h13.2" stroke="#00ff00" stroke-width="1.2"/>
<text class="lg" x="304.8" y="641.2">χ<tspan font-size="10.5" dy="5.5">g</tspan><tspan dy="-5.5">=3.06%</tspan></text>
<path d="M284.5 660.4h13.2" stroke="#00e000" stroke-width="1.2"/>
<text class="lg" x="304.8" y="662.3">χ<tspan font-size="10.5" dy="5.5">g</tspan><tspan dy="-5.5">=3.95%</tspan></text>
<path d="M284.5 681.5h13.2" stroke="#dda0cc" stroke-width="1.2"/>
<text class="lg" x="304.8" y="683.4">χ<tspan font-size="10.5" dy="5.5">g</tspan><tspan dy="-5.5">=4.95%</tspan></text>
<path d="M284.5 702.6h13.2" stroke="#2040ff" stroke-width="1.2"/>
<text class="lg" x="304.8" y="704.5">χ<tspan font-size="10.5" dy="5.5">g</tspan><tspan dy="-5.5">=10%</tspan></text>
</g>
<path d="M94.1 226.2L139 210.3" stroke="#000" stroke-width="1.1" marker-end="url(#ah)"/>
<path d="M81 108.7L127.2 94.4" stroke="#000" stroke-width="1.1" marker-end="url(#ah)"/>
<path d="M219.2 39L278 20" stroke="#000" stroke-width="1.1" marker-end="url(#ah)"/>
<path d="M182.9 172.6L191.1 124.8" stroke="#000" stroke-width="1.1" marker-end="url(#ah)"/>
<text class="tk" x="76.5" y="742.6" text-anchor="middle">0</text>
<text class="tk" x="124.5" y="742.6" text-anchor="middle">500</text>
<text class="tk" x="172.4" y="742.6" text-anchor="middle">1000</text>
<text class="tk" x="220.3" y="742.6" text-anchor="middle">1500</text>
<text class="tk" x="268.3" y="742.6" text-anchor="middle">2000</text>
<text class="tk" x="316.2" y="742.6" text-anchor="middle">2500</text>
<text class="tk" x="364.2" y="742.6" text-anchor="middle">3000</text>
<text class="tk" x="220.5" y="758" text-anchor="middle">P [MPa]</text>
</svg></body></html>
